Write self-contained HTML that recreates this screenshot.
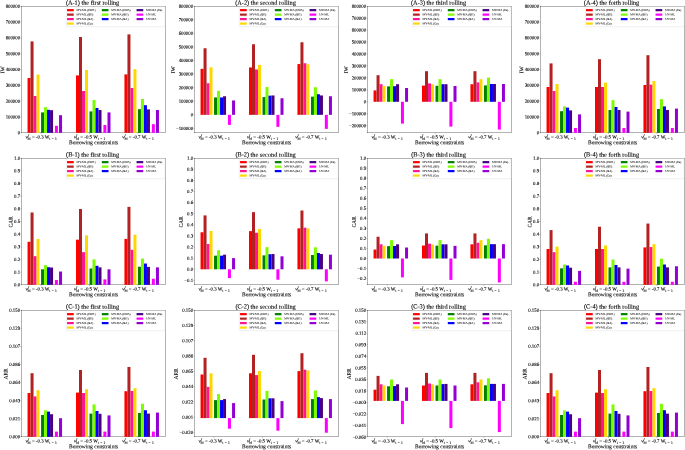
<!DOCTYPE html>
<html lang="en">
<head>
<meta charset="utf-8">
<title>Rolling results under borrowing constraints</title>
<style>
html,body{margin:0;padding:0;background:#fff;}
body{width:685px;height:450px;overflow:hidden;}
svg{display:block;}
svg text{font-family:"Liberation Serif", "DejaVu Serif", serif;fill:#000;stroke:#000;stroke-width:0.1px;text-rendering:geometricPrecision;}
svg text.lg{stroke-width:0.06px;fill:#111;stroke:#111;}
</style>
</head>
<body>
<svg width="685" height="450" viewBox="0 0 685 450">
<rect x="0" y="0" width="685" height="450" fill="#ffffff"/>
<g>
<rect x="21.45" y="6.2" width="144.2" height="126.65" fill="none" stroke="#000" stroke-width="0.3"/>
<rect x="27.55" y="78" width="3" height="54.85" fill="#ff0000"/>
<rect x="30.55" y="41.4" width="3" height="91.45" fill="#b22222"/>
<rect x="33.55" y="96" width="3" height="36.85" fill="#ff1493"/>
<rect x="36.55" y="74.6" width="3" height="58.25" fill="#ffd700"/>
<rect x="41.05" y="112.4" width="3" height="20.45" fill="#008000"/>
<rect x="44.05" y="107.2" width="3" height="25.65" fill="#7cfc00"/>
<rect x="47.05" y="109.8" width="3" height="23.05" fill="#0000ff"/>
<rect x="50.05" y="110.2" width="3" height="22.65" fill="#4b0082"/>
<rect x="54.94" y="125.8" width="3" height="7.05" fill="#ff00ff"/>
<rect x="59.05" y="115.2" width="3" height="17.65" fill="#9400d3"/>
<rect x="76" y="75.4" width="3" height="57.45" fill="#ff0000"/>
<rect x="79" y="37" width="3" height="95.85" fill="#b22222"/>
<rect x="82" y="91" width="3" height="41.85" fill="#ff1493"/>
<rect x="85" y="70" width="3" height="62.85" fill="#ffd700"/>
<rect x="89.5" y="111.4" width="3" height="21.45" fill="#008000"/>
<rect x="92.5" y="100" width="3" height="32.85" fill="#7cfc00"/>
<rect x="95.5" y="108" width="3" height="24.85" fill="#0000ff"/>
<rect x="98.5" y="110" width="3" height="22.85" fill="#4b0082"/>
<rect x="103.39" y="125" width="3" height="7.85" fill="#ff00ff"/>
<rect x="107.5" y="112.4" width="3" height="20.45" fill="#9400d3"/>
<rect x="124.45" y="74.4" width="3" height="58.45" fill="#ff0000"/>
<rect x="127.45" y="34.4" width="3" height="98.45" fill="#b22222"/>
<rect x="130.45" y="88" width="3" height="44.85" fill="#ff1493"/>
<rect x="133.45" y="69.2" width="3" height="63.65" fill="#ffd700"/>
<rect x="137.95" y="109.2" width="3" height="23.65" fill="#008000"/>
<rect x="140.95" y="99" width="3" height="33.85" fill="#7cfc00"/>
<rect x="143.95" y="105.2" width="3" height="27.65" fill="#0000ff"/>
<rect x="146.95" y="109.4" width="3" height="23.45" fill="#4b0082"/>
<rect x="151.84" y="124.2" width="3" height="8.65" fill="#ff00ff"/>
<rect x="155.95" y="110" width="3" height="22.85" fill="#9400d3"/>
<line x1="20.15" y1="6.21" x2="21.45" y2="6.21" stroke="#000" stroke-width="0.2"/>
<text x="20.05" y="7.71" font-size="4.8" text-anchor="end" transform="rotate(0.05 20.05 7.71)">800000</text>
<line x1="20.15" y1="22.04" x2="21.45" y2="22.04" stroke="#000" stroke-width="0.2"/>
<text x="20.05" y="23.54" font-size="4.8" text-anchor="end" transform="rotate(0.05 20.05 23.54)">700000</text>
<line x1="20.15" y1="37.87" x2="21.45" y2="37.87" stroke="#000" stroke-width="0.2"/>
<text x="20.05" y="39.37" font-size="4.8" text-anchor="end" transform="rotate(0.05 20.05 39.37)">600000</text>
<line x1="20.15" y1="53.7" x2="21.45" y2="53.7" stroke="#000" stroke-width="0.2"/>
<text x="20.05" y="55.2" font-size="4.8" text-anchor="end" transform="rotate(0.05 20.05 55.2)">500000</text>
<line x1="20.15" y1="69.53" x2="21.45" y2="69.53" stroke="#000" stroke-width="0.2"/>
<text x="20.05" y="71.03" font-size="4.8" text-anchor="end" transform="rotate(0.05 20.05 71.03)">400000</text>
<line x1="20.15" y1="85.36" x2="21.45" y2="85.36" stroke="#000" stroke-width="0.2"/>
<text x="20.05" y="86.86" font-size="4.8" text-anchor="end" transform="rotate(0.05 20.05 86.86)">300000</text>
<line x1="20.15" y1="101.19" x2="21.45" y2="101.19" stroke="#000" stroke-width="0.2"/>
<text x="20.05" y="102.69" font-size="4.8" text-anchor="end" transform="rotate(0.05 20.05 102.69)">200000</text>
<line x1="20.15" y1="117.02" x2="21.45" y2="117.02" stroke="#000" stroke-width="0.2"/>
<text x="20.05" y="118.52" font-size="4.8" text-anchor="end" transform="rotate(0.05 20.05 118.52)">100000</text>
<line x1="20.15" y1="132.85" x2="21.45" y2="132.85" stroke="#000" stroke-width="0.2"/>
<text x="20.05" y="134.35" font-size="4.8" text-anchor="end" transform="rotate(0.05 20.05 134.35)">0</text>
<line x1="41.05" y1="132.85" x2="41.05" y2="134.15" stroke="#000" stroke-width="0.2"/>
<text x="41.25" y="138.55" font-size="4.9" text-anchor="middle" transform="rotate(0.05 41.25 138.55)"><tspan font-style="italic" font-size="5">v</tspan><tspan font-size="3.5" dy="-1.9" font-style="italic">f</tspan><tspan font-size="3.5" dy="3.1" dx="-1.1">M</tspan><tspan dy="-1.2"> = -0.3 W</tspan><tspan font-size="3.5" dy="1.1" letter-spacing="0.25">t − 1</tspan></text>
<line x1="89.5" y1="132.85" x2="89.5" y2="134.15" stroke="#000" stroke-width="0.2"/>
<text x="89.7" y="138.55" font-size="4.9" text-anchor="middle" transform="rotate(0.05 89.7 138.55)"><tspan font-style="italic" font-size="5">v</tspan><tspan font-size="3.5" dy="-1.9" font-style="italic">f</tspan><tspan font-size="3.5" dy="3.1" dx="-1.1">M</tspan><tspan dy="-1.2"> = -0.5 W</tspan><tspan font-size="3.5" dy="1.1" letter-spacing="0.25">t − 1</tspan></text>
<line x1="137.95" y1="132.85" x2="137.95" y2="134.15" stroke="#000" stroke-width="0.2"/>
<text x="138.15" y="138.55" font-size="4.9" text-anchor="middle" transform="rotate(0.05 138.15 138.55)"><tspan font-style="italic" font-size="5">v</tspan><tspan font-size="3.5" dy="-1.9" font-style="italic">f</tspan><tspan font-size="3.5" dy="3.1" dx="-1.1">M</tspan><tspan dy="-1.2"> = -0.7 W</tspan><tspan font-size="3.5" dy="1.1" letter-spacing="0.25">t − 1</tspan></text>
<text x="93.55" y="144.25" font-size="5.5" text-anchor="middle" transform="rotate(0.05 93.55 144.25)">Borrowing constraints</text>
<text x="4.15" y="69.93" font-size="5.5" text-anchor="middle" transform="rotate(-89.95 4.15 69.93)">IW</text>
<text x="92.55" y="4.65" font-size="6.3" text-anchor="middle" transform="rotate(0.05 92.55 4.65)">(A-1) the first rolling</text>
<rect x="66.35" y="6.7" width="98.7" height="20" rx="0.8" fill="#fff" fill-opacity="0.8" stroke="#d4d4d4" stroke-width="0.35"/>
<rect x="67.05" y="9.05" width="6.7" height="2.2" fill="#ff0000"/>
<text x="76.5" y="11.1" font-size="3" class="lg" transform="rotate(0.05 76.5 11.1)">MV-ML (FWA)</text>
<rect x="67.05" y="13.53" width="6.7" height="2.2" fill="#b22222"/>
<text x="76.5" y="15.58" font-size="3" class="lg" transform="rotate(0.05 76.5 15.58)">MV-ML (BH)</text>
<rect x="67.05" y="18.01" width="6.7" height="2.2" fill="#ff1493"/>
<text x="76.5" y="20.06" font-size="3" class="lg" transform="rotate(0.05 76.5 20.06)">MV-ML (BA)</text>
<rect x="67.05" y="22.49" width="6.7" height="2.2" fill="#ffd700"/>
<text x="76.5" y="24.54" font-size="3" class="lg" transform="rotate(0.05 76.5 24.54)">MV-ML (Eu)</text>
<rect x="101.8" y="9.05" width="6.7" height="2.2" fill="#008000"/>
<text x="111.25" y="11.1" font-size="3" class="lg" transform="rotate(0.05 111.25 11.1)">MV-MA (FWA)</text>
<rect x="101.8" y="13.53" width="6.7" height="2.2" fill="#7cfc00"/>
<text x="111.25" y="15.58" font-size="3" class="lg" transform="rotate(0.05 111.25 15.58)">MV-MA (BH)</text>
<rect x="101.8" y="18.01" width="6.7" height="2.2" fill="#0000ff"/>
<text x="111.25" y="20.06" font-size="3" class="lg" transform="rotate(0.05 111.25 20.06)">MV-MA (BA)</text>
<rect x="136.55" y="9.05" width="6.7" height="2.2" fill="#4b0082"/>
<text x="146" y="11.1" font-size="3" class="lg" transform="rotate(0.05 146 11.1)">MV-MA (Eu)</text>
<rect x="136.55" y="13.53" width="6.7" height="2.2" fill="#ff00ff"/>
<text x="146" y="15.58" font-size="3" class="lg" transform="rotate(0.05 146 15.58)">1/N-ML</text>
<rect x="136.55" y="18.01" width="6.7" height="2.2" fill="#9400d3"/>
<text x="146" y="20.06" font-size="3" class="lg" transform="rotate(0.05 146 20.06)">1/N-MA</text>
</g>
<g>
<rect x="194.45" y="6.2" width="144.2" height="126.65" fill="none" stroke="#000" stroke-width="0.3"/>
<rect x="200.55" y="68.85" width="3" height="46" fill="#ff0000"/>
<rect x="203.55" y="48.25" width="3" height="66.6" fill="#b22222"/>
<rect x="206.55" y="83.25" width="3" height="31.6" fill="#ff1493"/>
<rect x="209.55" y="67.25" width="3" height="47.6" fill="#ffd700"/>
<rect x="214.05" y="97.45" width="3" height="17.4" fill="#008000"/>
<rect x="217.05" y="90.85" width="3" height="24" fill="#7cfc00"/>
<rect x="220.05" y="97.45" width="3" height="17.4" fill="#0000ff"/>
<rect x="223.05" y="96.25" width="3" height="18.6" fill="#4b0082"/>
<rect x="227.94" y="114.85" width="3" height="10" fill="#ff00ff"/>
<rect x="232.05" y="100.45" width="3" height="14.4" fill="#9400d3"/>
<rect x="249" y="67.45" width="3" height="47.4" fill="#ff0000"/>
<rect x="252" y="44.25" width="3" height="70.6" fill="#b22222"/>
<rect x="255" y="69.45" width="3" height="45.4" fill="#ff1493"/>
<rect x="258" y="64.85" width="3" height="50" fill="#ffd700"/>
<rect x="262.5" y="97.05" width="3" height="17.8" fill="#008000"/>
<rect x="265.5" y="87.05" width="3" height="27.8" fill="#7cfc00"/>
<rect x="268.5" y="95.65" width="3" height="19.2" fill="#0000ff"/>
<rect x="271.5" y="95.45" width="3" height="19.4" fill="#4b0082"/>
<rect x="276.39" y="114.85" width="3" height="12" fill="#ff00ff"/>
<rect x="280.5" y="98.25" width="3" height="16.6" fill="#9400d3"/>
<rect x="297.45" y="64.05" width="3" height="50.8" fill="#ff0000"/>
<rect x="300.45" y="42.25" width="3" height="72.6" fill="#b22222"/>
<rect x="303.45" y="63.25" width="3" height="51.6" fill="#ff1493"/>
<rect x="306.45" y="64.25" width="3" height="50.6" fill="#ffd700"/>
<rect x="310.95" y="96.65" width="3" height="18.2" fill="#008000"/>
<rect x="313.95" y="87.25" width="3" height="27.6" fill="#7cfc00"/>
<rect x="316.95" y="94.25" width="3" height="20.6" fill="#0000ff"/>
<rect x="319.95" y="95.45" width="3" height="19.4" fill="#4b0082"/>
<rect x="324.84" y="114.85" width="3" height="14" fill="#ff00ff"/>
<rect x="328.95" y="96.25" width="3" height="18.6" fill="#9400d3"/>
<line x1="193.15" y1="6.21" x2="194.45" y2="6.21" stroke="#000" stroke-width="0.2"/>
<text x="193.05" y="7.71" font-size="4.8" text-anchor="end" transform="rotate(0.05 193.05 7.71)">800000</text>
<line x1="193.15" y1="19.79" x2="194.45" y2="19.79" stroke="#000" stroke-width="0.2"/>
<text x="193.05" y="21.29" font-size="4.8" text-anchor="end" transform="rotate(0.05 193.05 21.29)">700000</text>
<line x1="193.15" y1="33.37" x2="194.45" y2="33.37" stroke="#000" stroke-width="0.2"/>
<text x="193.05" y="34.87" font-size="4.8" text-anchor="end" transform="rotate(0.05 193.05 34.87)">600000</text>
<line x1="193.15" y1="46.95" x2="194.45" y2="46.95" stroke="#000" stroke-width="0.2"/>
<text x="193.05" y="48.45" font-size="4.8" text-anchor="end" transform="rotate(0.05 193.05 48.45)">500000</text>
<line x1="193.15" y1="60.53" x2="194.45" y2="60.53" stroke="#000" stroke-width="0.2"/>
<text x="193.05" y="62.03" font-size="4.8" text-anchor="end" transform="rotate(0.05 193.05 62.03)">400000</text>
<line x1="193.15" y1="74.11" x2="194.45" y2="74.11" stroke="#000" stroke-width="0.2"/>
<text x="193.05" y="75.61" font-size="4.8" text-anchor="end" transform="rotate(0.05 193.05 75.61)">300000</text>
<line x1="193.15" y1="87.69" x2="194.45" y2="87.69" stroke="#000" stroke-width="0.2"/>
<text x="193.05" y="89.19" font-size="4.8" text-anchor="end" transform="rotate(0.05 193.05 89.19)">200000</text>
<line x1="193.15" y1="101.27" x2="194.45" y2="101.27" stroke="#000" stroke-width="0.2"/>
<text x="193.05" y="102.77" font-size="4.8" text-anchor="end" transform="rotate(0.05 193.05 102.77)">100000</text>
<line x1="193.15" y1="114.85" x2="194.45" y2="114.85" stroke="#000" stroke-width="0.2"/>
<text x="193.05" y="116.35" font-size="4.8" text-anchor="end" transform="rotate(0.05 193.05 116.35)">0</text>
<line x1="193.15" y1="128.43" x2="194.45" y2="128.43" stroke="#000" stroke-width="0.2"/>
<text x="193.05" y="129.93" font-size="4.8" text-anchor="end" transform="rotate(0.05 193.05 129.93)">−100000</text>
<line x1="214.05" y1="132.85" x2="214.05" y2="134.15" stroke="#000" stroke-width="0.2"/>
<text x="214.25" y="138.55" font-size="4.9" text-anchor="middle" transform="rotate(0.05 214.25 138.55)"><tspan font-style="italic" font-size="5">v</tspan><tspan font-size="3.5" dy="-1.9" font-style="italic">f</tspan><tspan font-size="3.5" dy="3.1" dx="-1.1">M</tspan><tspan dy="-1.2"> = -0.3 W</tspan><tspan font-size="3.5" dy="1.1" letter-spacing="0.25">t − 1</tspan></text>
<line x1="262.5" y1="132.85" x2="262.5" y2="134.15" stroke="#000" stroke-width="0.2"/>
<text x="262.7" y="138.55" font-size="4.9" text-anchor="middle" transform="rotate(0.05 262.7 138.55)"><tspan font-style="italic" font-size="5">v</tspan><tspan font-size="3.5" dy="-1.9" font-style="italic">f</tspan><tspan font-size="3.5" dy="3.1" dx="-1.1">M</tspan><tspan dy="-1.2"> = -0.5 W</tspan><tspan font-size="3.5" dy="1.1" letter-spacing="0.25">t − 1</tspan></text>
<line x1="310.95" y1="132.85" x2="310.95" y2="134.15" stroke="#000" stroke-width="0.2"/>
<text x="311.15" y="138.55" font-size="4.9" text-anchor="middle" transform="rotate(0.05 311.15 138.55)"><tspan font-style="italic" font-size="5">v</tspan><tspan font-size="3.5" dy="-1.9" font-style="italic">f</tspan><tspan font-size="3.5" dy="3.1" dx="-1.1">M</tspan><tspan dy="-1.2"> = -0.7 W</tspan><tspan font-size="3.5" dy="1.1" letter-spacing="0.25">t − 1</tspan></text>
<text x="266.55" y="144.25" font-size="5.5" text-anchor="middle" transform="rotate(0.05 266.55 144.25)">Borrowing constraints</text>
<text x="174.65" y="69.93" font-size="5.5" text-anchor="middle" transform="rotate(-89.95 174.65 69.93)">IW</text>
<text x="265.55" y="4.65" font-size="6.3" text-anchor="middle" transform="rotate(0.05 265.55 4.65)">(A-2) the second rolling</text>
<rect x="239.35" y="6.7" width="98.7" height="20" rx="0.8" fill="#fff" fill-opacity="0.8" stroke="#d4d4d4" stroke-width="0.35"/>
<rect x="240.05" y="9.05" width="6.7" height="2.2" fill="#ff0000"/>
<text x="249.5" y="11.1" font-size="3" class="lg" transform="rotate(0.05 249.5 11.1)">MV-ML (FWA)</text>
<rect x="240.05" y="13.53" width="6.7" height="2.2" fill="#b22222"/>
<text x="249.5" y="15.58" font-size="3" class="lg" transform="rotate(0.05 249.5 15.58)">MV-ML (BH)</text>
<rect x="240.05" y="18.01" width="6.7" height="2.2" fill="#ff1493"/>
<text x="249.5" y="20.06" font-size="3" class="lg" transform="rotate(0.05 249.5 20.06)">MV-ML (BA)</text>
<rect x="240.05" y="22.49" width="6.7" height="2.2" fill="#ffd700"/>
<text x="249.5" y="24.54" font-size="3" class="lg" transform="rotate(0.05 249.5 24.54)">MV-ML (Eu)</text>
<rect x="274.8" y="9.05" width="6.7" height="2.2" fill="#008000"/>
<text x="284.25" y="11.1" font-size="3" class="lg" transform="rotate(0.05 284.25 11.1)">MV-MA (FWA)</text>
<rect x="274.8" y="13.53" width="6.7" height="2.2" fill="#7cfc00"/>
<text x="284.25" y="15.58" font-size="3" class="lg" transform="rotate(0.05 284.25 15.58)">MV-MA (BH)</text>
<rect x="274.8" y="18.01" width="6.7" height="2.2" fill="#0000ff"/>
<text x="284.25" y="20.06" font-size="3" class="lg" transform="rotate(0.05 284.25 20.06)">MV-MA (BA)</text>
<rect x="309.55" y="9.05" width="6.7" height="2.2" fill="#4b0082"/>
<text x="319" y="11.1" font-size="3" class="lg" transform="rotate(0.05 319 11.1)">MV-MA (Eu)</text>
<rect x="309.55" y="13.53" width="6.7" height="2.2" fill="#ff00ff"/>
<text x="319" y="15.58" font-size="3" class="lg" transform="rotate(0.05 319 15.58)">1/N-ML</text>
<rect x="309.55" y="18.01" width="6.7" height="2.2" fill="#9400d3"/>
<text x="319" y="20.06" font-size="3" class="lg" transform="rotate(0.05 319 20.06)">1/N-MA</text>
</g>
<g>
<rect x="367.45" y="6.2" width="144.2" height="126.65" fill="none" stroke="#000" stroke-width="0.3"/>
<rect x="373.55" y="90.4" width="3" height="11.4" fill="#ff0000"/>
<rect x="376.55" y="75.2" width="3" height="26.6" fill="#b22222"/>
<rect x="379.55" y="84.2" width="3" height="17.6" fill="#ff1493"/>
<rect x="382.55" y="86" width="3" height="15.8" fill="#ffd700"/>
<rect x="387.05" y="86.4" width="3" height="15.4" fill="#008000"/>
<rect x="390.05" y="79.2" width="3" height="22.6" fill="#7cfc00"/>
<rect x="393.05" y="86.2" width="3" height="15.6" fill="#0000ff"/>
<rect x="396.05" y="84.2" width="3" height="17.6" fill="#4b0082"/>
<rect x="400.94" y="101.8" width="3" height="21.8" fill="#ff00ff"/>
<rect x="405.05" y="88" width="3" height="13.8" fill="#9400d3"/>
<rect x="422" y="85.6" width="3" height="16.2" fill="#ff0000"/>
<rect x="425" y="71.2" width="3" height="30.6" fill="#b22222"/>
<rect x="428" y="83.4" width="3" height="18.4" fill="#ff1493"/>
<rect x="431" y="84.4" width="3" height="17.4" fill="#ffd700"/>
<rect x="435.5" y="85.8" width="3" height="16" fill="#008000"/>
<rect x="438.5" y="79.2" width="3" height="22.6" fill="#7cfc00"/>
<rect x="441.5" y="84.2" width="3" height="17.6" fill="#0000ff"/>
<rect x="444.5" y="84.2" width="3" height="17.6" fill="#4b0082"/>
<rect x="449.39" y="101.8" width="3" height="24.8" fill="#ff00ff"/>
<rect x="453.5" y="86" width="3" height="15.8" fill="#9400d3"/>
<rect x="470.45" y="84.2" width="3" height="17.6" fill="#ff0000"/>
<rect x="473.45" y="71.2" width="3" height="30.6" fill="#b22222"/>
<rect x="476.45" y="82.4" width="3" height="19.4" fill="#ff1493"/>
<rect x="479.45" y="79.2" width="3" height="22.6" fill="#ffd700"/>
<rect x="483.95" y="85.4" width="3" height="16.4" fill="#008000"/>
<rect x="486.95" y="77.6" width="3" height="24.2" fill="#7cfc00"/>
<rect x="489.95" y="84" width="3" height="17.8" fill="#0000ff"/>
<rect x="492.95" y="84" width="3" height="17.8" fill="#4b0082"/>
<rect x="497.84" y="101.8" width="3" height="27.8" fill="#ff00ff"/>
<rect x="501.95" y="84" width="3" height="17.8" fill="#9400d3"/>
<line x1="366.15" y1="6.2" x2="367.45" y2="6.2" stroke="#000" stroke-width="0.2"/>
<text x="366.05" y="7.7" font-size="4.8" text-anchor="end" transform="rotate(0.05 366.05 7.7)">800000</text>
<line x1="366.15" y1="18.15" x2="367.45" y2="18.15" stroke="#000" stroke-width="0.2"/>
<text x="366.05" y="19.65" font-size="4.8" text-anchor="end" transform="rotate(0.05 366.05 19.65)">700000</text>
<line x1="366.15" y1="30.1" x2="367.45" y2="30.1" stroke="#000" stroke-width="0.2"/>
<text x="366.05" y="31.6" font-size="4.8" text-anchor="end" transform="rotate(0.05 366.05 31.6)">600000</text>
<line x1="366.15" y1="42.05" x2="367.45" y2="42.05" stroke="#000" stroke-width="0.2"/>
<text x="366.05" y="43.55" font-size="4.8" text-anchor="end" transform="rotate(0.05 366.05 43.55)">500000</text>
<line x1="366.15" y1="54" x2="367.45" y2="54" stroke="#000" stroke-width="0.2"/>
<text x="366.05" y="55.5" font-size="4.8" text-anchor="end" transform="rotate(0.05 366.05 55.5)">400000</text>
<line x1="366.15" y1="65.95" x2="367.45" y2="65.95" stroke="#000" stroke-width="0.2"/>
<text x="366.05" y="67.45" font-size="4.8" text-anchor="end" transform="rotate(0.05 366.05 67.45)">300000</text>
<line x1="366.15" y1="77.9" x2="367.45" y2="77.9" stroke="#000" stroke-width="0.2"/>
<text x="366.05" y="79.4" font-size="4.8" text-anchor="end" transform="rotate(0.05 366.05 79.4)">200000</text>
<line x1="366.15" y1="89.85" x2="367.45" y2="89.85" stroke="#000" stroke-width="0.2"/>
<text x="366.05" y="91.35" font-size="4.8" text-anchor="end" transform="rotate(0.05 366.05 91.35)">100000</text>
<line x1="366.15" y1="101.8" x2="367.45" y2="101.8" stroke="#000" stroke-width="0.2"/>
<text x="366.05" y="103.3" font-size="4.8" text-anchor="end" transform="rotate(0.05 366.05 103.3)">0</text>
<line x1="366.15" y1="113.75" x2="367.45" y2="113.75" stroke="#000" stroke-width="0.2"/>
<text x="366.05" y="115.25" font-size="4.8" text-anchor="end" transform="rotate(0.05 366.05 115.25)">−100000</text>
<line x1="366.15" y1="125.7" x2="367.45" y2="125.7" stroke="#000" stroke-width="0.2"/>
<text x="366.05" y="127.2" font-size="4.8" text-anchor="end" transform="rotate(0.05 366.05 127.2)">−200000</text>
<line x1="387.05" y1="132.85" x2="387.05" y2="134.15" stroke="#000" stroke-width="0.2"/>
<text x="387.25" y="138.55" font-size="4.9" text-anchor="middle" transform="rotate(0.05 387.25 138.55)"><tspan font-style="italic" font-size="5">v</tspan><tspan font-size="3.5" dy="-1.9" font-style="italic">f</tspan><tspan font-size="3.5" dy="3.1" dx="-1.1">M</tspan><tspan dy="-1.2"> = -0.3 W</tspan><tspan font-size="3.5" dy="1.1" letter-spacing="0.25">t − 1</tspan></text>
<line x1="435.5" y1="132.85" x2="435.5" y2="134.15" stroke="#000" stroke-width="0.2"/>
<text x="435.7" y="138.55" font-size="4.9" text-anchor="middle" transform="rotate(0.05 435.7 138.55)"><tspan font-style="italic" font-size="5">v</tspan><tspan font-size="3.5" dy="-1.9" font-style="italic">f</tspan><tspan font-size="3.5" dy="3.1" dx="-1.1">M</tspan><tspan dy="-1.2"> = -0.5 W</tspan><tspan font-size="3.5" dy="1.1" letter-spacing="0.25">t − 1</tspan></text>
<line x1="483.95" y1="132.85" x2="483.95" y2="134.15" stroke="#000" stroke-width="0.2"/>
<text x="484.15" y="138.55" font-size="4.9" text-anchor="middle" transform="rotate(0.05 484.15 138.55)"><tspan font-style="italic" font-size="5">v</tspan><tspan font-size="3.5" dy="-1.9" font-style="italic">f</tspan><tspan font-size="3.5" dy="3.1" dx="-1.1">M</tspan><tspan dy="-1.2"> = -0.7 W</tspan><tspan font-size="3.5" dy="1.1" letter-spacing="0.25">t − 1</tspan></text>
<text x="439.55" y="144.25" font-size="5.5" text-anchor="middle" transform="rotate(0.05 439.55 144.25)">Borrowing constraints</text>
<text x="347.65" y="69.93" font-size="5.5" text-anchor="middle" transform="rotate(-89.95 347.65 69.93)">IW</text>
<text x="438.55" y="4.65" font-size="6.3" text-anchor="middle" transform="rotate(0.05 438.55 4.65)">(A-3) the third rolling</text>
<rect x="412.35" y="6.7" width="98.7" height="20" rx="0.8" fill="#fff" fill-opacity="0.8" stroke="#d4d4d4" stroke-width="0.35"/>
<rect x="413.05" y="9.05" width="6.7" height="2.2" fill="#ff0000"/>
<text x="422.5" y="11.1" font-size="3" class="lg" transform="rotate(0.05 422.5 11.1)">MV-ML (FWA)</text>
<rect x="413.05" y="13.53" width="6.7" height="2.2" fill="#b22222"/>
<text x="422.5" y="15.58" font-size="3" class="lg" transform="rotate(0.05 422.5 15.58)">MV-ML (BH)</text>
<rect x="413.05" y="18.01" width="6.7" height="2.2" fill="#ff1493"/>
<text x="422.5" y="20.06" font-size="3" class="lg" transform="rotate(0.05 422.5 20.06)">MV-ML (BA)</text>
<rect x="413.05" y="22.49" width="6.7" height="2.2" fill="#ffd700"/>
<text x="422.5" y="24.54" font-size="3" class="lg" transform="rotate(0.05 422.5 24.54)">MV-ML (Eu)</text>
<rect x="447.8" y="9.05" width="6.7" height="2.2" fill="#008000"/>
<text x="457.25" y="11.1" font-size="3" class="lg" transform="rotate(0.05 457.25 11.1)">MV-MA (FWA)</text>
<rect x="447.8" y="13.53" width="6.7" height="2.2" fill="#7cfc00"/>
<text x="457.25" y="15.58" font-size="3" class="lg" transform="rotate(0.05 457.25 15.58)">MV-MA (BH)</text>
<rect x="447.8" y="18.01" width="6.7" height="2.2" fill="#0000ff"/>
<text x="457.25" y="20.06" font-size="3" class="lg" transform="rotate(0.05 457.25 20.06)">MV-MA (BA)</text>
<rect x="482.55" y="9.05" width="6.7" height="2.2" fill="#4b0082"/>
<text x="492" y="11.1" font-size="3" class="lg" transform="rotate(0.05 492 11.1)">MV-MA (Eu)</text>
<rect x="482.55" y="13.53" width="6.7" height="2.2" fill="#ff00ff"/>
<text x="492" y="15.58" font-size="3" class="lg" transform="rotate(0.05 492 15.58)">1/N-ML</text>
<rect x="482.55" y="18.01" width="6.7" height="2.2" fill="#9400d3"/>
<text x="492" y="20.06" font-size="3" class="lg" transform="rotate(0.05 492 20.06)">1/N-MA</text>
</g>
<g>
<rect x="540.45" y="6.2" width="144.2" height="126.65" fill="none" stroke="#000" stroke-width="0.3"/>
<rect x="546.55" y="87" width="3" height="45.85" fill="#ff0000"/>
<rect x="549.55" y="63.4" width="3" height="69.45" fill="#b22222"/>
<rect x="552.55" y="91" width="3" height="41.85" fill="#ff1493"/>
<rect x="555.55" y="84" width="3" height="48.85" fill="#ffd700"/>
<rect x="560.05" y="111.2" width="3" height="21.65" fill="#008000"/>
<rect x="563.05" y="106.4" width="3" height="26.45" fill="#7cfc00"/>
<rect x="566.05" y="107.6" width="3" height="25.25" fill="#0000ff"/>
<rect x="569.05" y="110.4" width="3" height="22.45" fill="#4b0082"/>
<rect x="573.94" y="128" width="3" height="4.85" fill="#ff00ff"/>
<rect x="578.05" y="114.4" width="3" height="18.45" fill="#9400d3"/>
<rect x="595" y="87" width="3" height="45.85" fill="#ff0000"/>
<rect x="598" y="59.2" width="3" height="73.65" fill="#b22222"/>
<rect x="601" y="87" width="3" height="45.85" fill="#ff1493"/>
<rect x="604" y="82.6" width="3" height="50.25" fill="#ffd700"/>
<rect x="608.5" y="110" width="3" height="22.85" fill="#008000"/>
<rect x="611.5" y="100.2" width="3" height="32.65" fill="#7cfc00"/>
<rect x="614.5" y="107" width="3" height="25.85" fill="#0000ff"/>
<rect x="617.5" y="110" width="3" height="22.85" fill="#4b0082"/>
<rect x="622.39" y="128" width="3" height="4.85" fill="#ff00ff"/>
<rect x="626.5" y="111.6" width="3" height="21.25" fill="#9400d3"/>
<rect x="643.45" y="85" width="3" height="47.85" fill="#ff0000"/>
<rect x="646.45" y="55.2" width="3" height="77.65" fill="#b22222"/>
<rect x="649.45" y="84.6" width="3" height="48.25" fill="#ff1493"/>
<rect x="652.45" y="81" width="3" height="51.85" fill="#ffd700"/>
<rect x="656.95" y="109" width="3" height="23.85" fill="#008000"/>
<rect x="659.95" y="99.2" width="3" height="33.65" fill="#7cfc00"/>
<rect x="662.95" y="106.4" width="3" height="26.45" fill="#0000ff"/>
<rect x="665.95" y="110" width="3" height="22.85" fill="#4b0082"/>
<rect x="670.84" y="128" width="3" height="4.85" fill="#ff00ff"/>
<rect x="674.95" y="108.6" width="3" height="24.25" fill="#9400d3"/>
<line x1="539.15" y1="6.21" x2="540.45" y2="6.21" stroke="#000" stroke-width="0.2"/>
<text x="539.05" y="7.71" font-size="4.8" text-anchor="end" transform="rotate(0.05 539.05 7.71)">800000</text>
<line x1="539.15" y1="22.04" x2="540.45" y2="22.04" stroke="#000" stroke-width="0.2"/>
<text x="539.05" y="23.54" font-size="4.8" text-anchor="end" transform="rotate(0.05 539.05 23.54)">700000</text>
<line x1="539.15" y1="37.87" x2="540.45" y2="37.87" stroke="#000" stroke-width="0.2"/>
<text x="539.05" y="39.37" font-size="4.8" text-anchor="end" transform="rotate(0.05 539.05 39.37)">600000</text>
<line x1="539.15" y1="53.7" x2="540.45" y2="53.7" stroke="#000" stroke-width="0.2"/>
<text x="539.05" y="55.2" font-size="4.8" text-anchor="end" transform="rotate(0.05 539.05 55.2)">500000</text>
<line x1="539.15" y1="69.53" x2="540.45" y2="69.53" stroke="#000" stroke-width="0.2"/>
<text x="539.05" y="71.03" font-size="4.8" text-anchor="end" transform="rotate(0.05 539.05 71.03)">400000</text>
<line x1="539.15" y1="85.36" x2="540.45" y2="85.36" stroke="#000" stroke-width="0.2"/>
<text x="539.05" y="86.86" font-size="4.8" text-anchor="end" transform="rotate(0.05 539.05 86.86)">300000</text>
<line x1="539.15" y1="101.19" x2="540.45" y2="101.19" stroke="#000" stroke-width="0.2"/>
<text x="539.05" y="102.69" font-size="4.8" text-anchor="end" transform="rotate(0.05 539.05 102.69)">200000</text>
<line x1="539.15" y1="117.02" x2="540.45" y2="117.02" stroke="#000" stroke-width="0.2"/>
<text x="539.05" y="118.52" font-size="4.8" text-anchor="end" transform="rotate(0.05 539.05 118.52)">100000</text>
<line x1="539.15" y1="132.85" x2="540.45" y2="132.85" stroke="#000" stroke-width="0.2"/>
<text x="539.05" y="134.35" font-size="4.8" text-anchor="end" transform="rotate(0.05 539.05 134.35)">0</text>
<line x1="560.05" y1="132.85" x2="560.05" y2="134.15" stroke="#000" stroke-width="0.2"/>
<text x="560.25" y="138.55" font-size="4.9" text-anchor="middle" transform="rotate(0.05 560.25 138.55)"><tspan font-style="italic" font-size="5">v</tspan><tspan font-size="3.5" dy="-1.9" font-style="italic">f</tspan><tspan font-size="3.5" dy="3.1" dx="-1.1">M</tspan><tspan dy="-1.2"> = -0.3 W</tspan><tspan font-size="3.5" dy="1.1" letter-spacing="0.25">t − 1</tspan></text>
<line x1="608.5" y1="132.85" x2="608.5" y2="134.15" stroke="#000" stroke-width="0.2"/>
<text x="608.7" y="138.55" font-size="4.9" text-anchor="middle" transform="rotate(0.05 608.7 138.55)"><tspan font-style="italic" font-size="5">v</tspan><tspan font-size="3.5" dy="-1.9" font-style="italic">f</tspan><tspan font-size="3.5" dy="3.1" dx="-1.1">M</tspan><tspan dy="-1.2"> = -0.5 W</tspan><tspan font-size="3.5" dy="1.1" letter-spacing="0.25">t − 1</tspan></text>
<line x1="656.95" y1="132.85" x2="656.95" y2="134.15" stroke="#000" stroke-width="0.2"/>
<text x="657.15" y="138.55" font-size="4.9" text-anchor="middle" transform="rotate(0.05 657.15 138.55)"><tspan font-style="italic" font-size="5">v</tspan><tspan font-size="3.5" dy="-1.9" font-style="italic">f</tspan><tspan font-size="3.5" dy="3.1" dx="-1.1">M</tspan><tspan dy="-1.2"> = -0.7 W</tspan><tspan font-size="3.5" dy="1.1" letter-spacing="0.25">t − 1</tspan></text>
<text x="612.55" y="144.25" font-size="5.5" text-anchor="middle" transform="rotate(0.05 612.55 144.25)">Borrowing constraints</text>
<text x="523.15" y="69.93" font-size="5.5" text-anchor="middle" transform="rotate(-89.95 523.15 69.93)">IW</text>
<text x="611.55" y="4.65" font-size="6.3" text-anchor="middle" transform="rotate(0.05 611.55 4.65)">(A-4) the forth rolling</text>
<rect x="585.35" y="6.7" width="98.7" height="20" rx="0.8" fill="#fff" fill-opacity="0.8" stroke="#d4d4d4" stroke-width="0.35"/>
<rect x="586.05" y="9.05" width="6.7" height="2.2" fill="#ff0000"/>
<text x="595.5" y="11.1" font-size="3" class="lg" transform="rotate(0.05 595.5 11.1)">MV-ML (FWA)</text>
<rect x="586.05" y="13.53" width="6.7" height="2.2" fill="#b22222"/>
<text x="595.5" y="15.58" font-size="3" class="lg" transform="rotate(0.05 595.5 15.58)">MV-ML (BH)</text>
<rect x="586.05" y="18.01" width="6.7" height="2.2" fill="#ff1493"/>
<text x="595.5" y="20.06" font-size="3" class="lg" transform="rotate(0.05 595.5 20.06)">MV-ML (BA)</text>
<rect x="586.05" y="22.49" width="6.7" height="2.2" fill="#ffd700"/>
<text x="595.5" y="24.54" font-size="3" class="lg" transform="rotate(0.05 595.5 24.54)">MV-ML (Eu)</text>
<rect x="620.8" y="9.05" width="6.7" height="2.2" fill="#008000"/>
<text x="630.25" y="11.1" font-size="3" class="lg" transform="rotate(0.05 630.25 11.1)">MV-MA (FWA)</text>
<rect x="620.8" y="13.53" width="6.7" height="2.2" fill="#7cfc00"/>
<text x="630.25" y="15.58" font-size="3" class="lg" transform="rotate(0.05 630.25 15.58)">MV-MA (BH)</text>
<rect x="620.8" y="18.01" width="6.7" height="2.2" fill="#0000ff"/>
<text x="630.25" y="20.06" font-size="3" class="lg" transform="rotate(0.05 630.25 20.06)">MV-MA (BA)</text>
<rect x="655.55" y="9.05" width="6.7" height="2.2" fill="#4b0082"/>
<text x="665" y="11.1" font-size="3" class="lg" transform="rotate(0.05 665 11.1)">MV-MA (Eu)</text>
<rect x="655.55" y="13.53" width="6.7" height="2.2" fill="#ff00ff"/>
<text x="665" y="15.58" font-size="3" class="lg" transform="rotate(0.05 665 15.58)">1/N-ML</text>
<rect x="655.55" y="18.01" width="6.7" height="2.2" fill="#9400d3"/>
<text x="665" y="20.06" font-size="3" class="lg" transform="rotate(0.05 665 20.06)">1/N-MA</text>
</g>
<g>
<rect x="21.45" y="158.2" width="144.2" height="126.65" fill="none" stroke="#000" stroke-width="0.3"/>
<rect x="27.55" y="241.78" width="3" height="43.07" fill="#ff0000"/>
<rect x="30.55" y="212.49" width="3" height="72.36" fill="#b22222"/>
<rect x="33.55" y="256.18" width="3" height="28.67" fill="#ff1493"/>
<rect x="36.55" y="239.06" width="3" height="45.79" fill="#ffd700"/>
<rect x="41.05" y="269.3" width="3" height="15.55" fill="#008000"/>
<rect x="44.05" y="265.14" width="3" height="19.71" fill="#7cfc00"/>
<rect x="47.05" y="267.22" width="3" height="17.63" fill="#0000ff"/>
<rect x="50.05" y="267.54" width="3" height="17.31" fill="#4b0082"/>
<rect x="54.94" y="280.02" width="3" height="4.83" fill="#ff00ff"/>
<rect x="59.05" y="271.54" width="3" height="13.31" fill="#9400d3"/>
<rect x="76" y="239.7" width="3" height="45.15" fill="#ff0000"/>
<rect x="79" y="208.97" width="3" height="75.88" fill="#b22222"/>
<rect x="82" y="252.18" width="3" height="32.67" fill="#ff1493"/>
<rect x="85" y="235.38" width="3" height="49.47" fill="#ffd700"/>
<rect x="89.5" y="268.5" width="3" height="16.35" fill="#008000"/>
<rect x="92.5" y="259.38" width="3" height="25.47" fill="#7cfc00"/>
<rect x="95.5" y="265.78" width="3" height="19.07" fill="#0000ff"/>
<rect x="98.5" y="267.38" width="3" height="17.47" fill="#4b0082"/>
<rect x="103.39" y="279.38" width="3" height="5.47" fill="#ff00ff"/>
<rect x="107.5" y="269.3" width="3" height="15.55" fill="#9400d3"/>
<rect x="124.45" y="238.9" width="3" height="45.95" fill="#ff0000"/>
<rect x="127.45" y="206.89" width="3" height="77.96" fill="#b22222"/>
<rect x="130.45" y="249.78" width="3" height="35.07" fill="#ff1493"/>
<rect x="133.45" y="234.74" width="3" height="50.11" fill="#ffd700"/>
<rect x="137.95" y="266.74" width="3" height="18.11" fill="#008000"/>
<rect x="140.95" y="258.58" width="3" height="26.27" fill="#7cfc00"/>
<rect x="143.95" y="263.54" width="3" height="21.31" fill="#0000ff"/>
<rect x="146.95" y="266.9" width="3" height="17.95" fill="#4b0082"/>
<rect x="151.84" y="278.74" width="3" height="6.11" fill="#ff00ff"/>
<rect x="155.95" y="267.38" width="3" height="17.47" fill="#9400d3"/>
<line x1="20.15" y1="158.2" x2="21.45" y2="158.2" stroke="#000" stroke-width="0.2"/>
<text x="20.05" y="159.7" font-size="4.8" text-anchor="end" transform="rotate(0.05 20.05 159.7)">1.0</text>
<line x1="20.15" y1="170.87" x2="21.45" y2="170.87" stroke="#000" stroke-width="0.2"/>
<text x="20.05" y="172.37" font-size="4.8" text-anchor="end" transform="rotate(0.05 20.05 172.37)">0.9</text>
<line x1="20.15" y1="183.53" x2="21.45" y2="183.53" stroke="#000" stroke-width="0.2"/>
<text x="20.05" y="185.03" font-size="4.8" text-anchor="end" transform="rotate(0.05 20.05 185.03)">0.8</text>
<line x1="20.15" y1="196.19" x2="21.45" y2="196.19" stroke="#000" stroke-width="0.2"/>
<text x="20.05" y="197.69" font-size="4.8" text-anchor="end" transform="rotate(0.05 20.05 197.69)">0.7</text>
<line x1="20.15" y1="208.86" x2="21.45" y2="208.86" stroke="#000" stroke-width="0.2"/>
<text x="20.05" y="210.36" font-size="4.8" text-anchor="end" transform="rotate(0.05 20.05 210.36)">0.6</text>
<line x1="20.15" y1="221.53" x2="21.45" y2="221.53" stroke="#000" stroke-width="0.2"/>
<text x="20.05" y="223.03" font-size="4.8" text-anchor="end" transform="rotate(0.05 20.05 223.03)">0.5</text>
<line x1="20.15" y1="234.19" x2="21.45" y2="234.19" stroke="#000" stroke-width="0.2"/>
<text x="20.05" y="235.69" font-size="4.8" text-anchor="end" transform="rotate(0.05 20.05 235.69)">0.4</text>
<line x1="20.15" y1="246.85" x2="21.45" y2="246.85" stroke="#000" stroke-width="0.2"/>
<text x="20.05" y="248.35" font-size="4.8" text-anchor="end" transform="rotate(0.05 20.05 248.35)">0.3</text>
<line x1="20.15" y1="259.52" x2="21.45" y2="259.52" stroke="#000" stroke-width="0.2"/>
<text x="20.05" y="261.02" font-size="4.8" text-anchor="end" transform="rotate(0.05 20.05 261.02)">0.2</text>
<line x1="20.15" y1="272.19" x2="21.45" y2="272.19" stroke="#000" stroke-width="0.2"/>
<text x="20.05" y="273.69" font-size="4.8" text-anchor="end" transform="rotate(0.05 20.05 273.69)">0.1</text>
<line x1="20.15" y1="284.85" x2="21.45" y2="284.85" stroke="#000" stroke-width="0.2"/>
<text x="20.05" y="286.35" font-size="4.8" text-anchor="end" transform="rotate(0.05 20.05 286.35)">0.0</text>
<line x1="41.05" y1="284.85" x2="41.05" y2="286.15" stroke="#000" stroke-width="0.2"/>
<text x="41.25" y="290.55" font-size="4.9" text-anchor="middle" transform="rotate(0.05 41.25 290.55)"><tspan font-style="italic" font-size="5">v</tspan><tspan font-size="3.5" dy="-1.9" font-style="italic">f</tspan><tspan font-size="3.5" dy="3.1" dx="-1.1">M</tspan><tspan dy="-1.2"> = -0.3 W</tspan><tspan font-size="3.5" dy="1.1" letter-spacing="0.25">t − 1</tspan></text>
<line x1="89.5" y1="284.85" x2="89.5" y2="286.15" stroke="#000" stroke-width="0.2"/>
<text x="89.7" y="290.55" font-size="4.9" text-anchor="middle" transform="rotate(0.05 89.7 290.55)"><tspan font-style="italic" font-size="5">v</tspan><tspan font-size="3.5" dy="-1.9" font-style="italic">f</tspan><tspan font-size="3.5" dy="3.1" dx="-1.1">M</tspan><tspan dy="-1.2"> = -0.5 W</tspan><tspan font-size="3.5" dy="1.1" letter-spacing="0.25">t − 1</tspan></text>
<line x1="137.95" y1="284.85" x2="137.95" y2="286.15" stroke="#000" stroke-width="0.2"/>
<text x="138.15" y="290.55" font-size="4.9" text-anchor="middle" transform="rotate(0.05 138.15 290.55)"><tspan font-style="italic" font-size="5">v</tspan><tspan font-size="3.5" dy="-1.9" font-style="italic">f</tspan><tspan font-size="3.5" dy="3.1" dx="-1.1">M</tspan><tspan dy="-1.2"> = -0.7 W</tspan><tspan font-size="3.5" dy="1.1" letter-spacing="0.25">t − 1</tspan></text>
<text x="93.55" y="296.25" font-size="5.5" text-anchor="middle" transform="rotate(0.05 93.55 296.25)">Borrowing constraints</text>
<text x="12.55" y="221.92" font-size="5.5" text-anchor="middle" transform="rotate(-89.95 12.55 221.92)">CAR</text>
<text x="92.55" y="156.65" font-size="6.3" text-anchor="middle" transform="rotate(0.05 92.55 156.65)">(B-1) the first rolling</text>
<rect x="66.35" y="158.7" width="98.7" height="20" rx="0.8" fill="#fff" fill-opacity="0.8" stroke="#d4d4d4" stroke-width="0.35"/>
<rect x="67.05" y="161.05" width="6.7" height="2.2" fill="#ff0000"/>
<text x="76.5" y="163.1" font-size="3" class="lg" transform="rotate(0.05 76.5 163.1)">MV-ML (FWA)</text>
<rect x="67.05" y="165.53" width="6.7" height="2.2" fill="#b22222"/>
<text x="76.5" y="167.58" font-size="3" class="lg" transform="rotate(0.05 76.5 167.58)">MV-ML (BH)</text>
<rect x="67.05" y="170.01" width="6.7" height="2.2" fill="#ff1493"/>
<text x="76.5" y="172.06" font-size="3" class="lg" transform="rotate(0.05 76.5 172.06)">MV-ML (BA)</text>
<rect x="67.05" y="174.49" width="6.7" height="2.2" fill="#ffd700"/>
<text x="76.5" y="176.54" font-size="3" class="lg" transform="rotate(0.05 76.5 176.54)">MV-ML (Eu)</text>
<rect x="101.8" y="161.05" width="6.7" height="2.2" fill="#008000"/>
<text x="111.25" y="163.1" font-size="3" class="lg" transform="rotate(0.05 111.25 163.1)">MV-MA (FWA)</text>
<rect x="101.8" y="165.53" width="6.7" height="2.2" fill="#7cfc00"/>
<text x="111.25" y="167.58" font-size="3" class="lg" transform="rotate(0.05 111.25 167.58)">MV-MA (BH)</text>
<rect x="101.8" y="170.01" width="6.7" height="2.2" fill="#0000ff"/>
<text x="111.25" y="172.06" font-size="3" class="lg" transform="rotate(0.05 111.25 172.06)">MV-MA (BA)</text>
<rect x="136.55" y="161.05" width="6.7" height="2.2" fill="#4b0082"/>
<text x="146" y="163.1" font-size="3" class="lg" transform="rotate(0.05 146 163.1)">MV-MA (Eu)</text>
<rect x="136.55" y="165.53" width="6.7" height="2.2" fill="#ff00ff"/>
<text x="146" y="167.58" font-size="3" class="lg" transform="rotate(0.05 146 167.58)">1/N-ML</text>
<rect x="136.55" y="170.01" width="6.7" height="2.2" fill="#9400d3"/>
<text x="146" y="172.06" font-size="3" class="lg" transform="rotate(0.05 146 172.06)">1/N-MA</text>
</g>
<g>
<rect x="194.45" y="158.2" width="144.2" height="126.65" fill="none" stroke="#000" stroke-width="0.3"/>
<rect x="200.55" y="232.27" width="3" height="37.03" fill="#ff0000"/>
<rect x="203.55" y="215.41" width="3" height="53.89" fill="#b22222"/>
<rect x="206.55" y="244.05" width="3" height="25.25" fill="#ff1493"/>
<rect x="209.55" y="230.96" width="3" height="38.34" fill="#ffd700"/>
<rect x="214.05" y="255.66" width="3" height="13.64" fill="#008000"/>
<rect x="217.05" y="250.27" width="3" height="19.03" fill="#7cfc00"/>
<rect x="220.05" y="255.66" width="3" height="13.64" fill="#0000ff"/>
<rect x="223.05" y="254.68" width="3" height="14.62" fill="#4b0082"/>
<rect x="227.94" y="269.3" width="3" height="8.78" fill="#ff00ff"/>
<rect x="232.05" y="258.12" width="3" height="11.18" fill="#9400d3"/>
<rect x="249" y="231.12" width="3" height="38.18" fill="#ff0000"/>
<rect x="252" y="212.14" width="3" height="57.16" fill="#b22222"/>
<rect x="255" y="232.76" width="3" height="36.54" fill="#ff1493"/>
<rect x="258" y="228.99" width="3" height="40.31" fill="#ffd700"/>
<rect x="262.5" y="255.34" width="3" height="13.96" fill="#008000"/>
<rect x="265.5" y="247.16" width="3" height="22.14" fill="#7cfc00"/>
<rect x="268.5" y="254.19" width="3" height="15.11" fill="#0000ff"/>
<rect x="271.5" y="254.03" width="3" height="15.27" fill="#4b0082"/>
<rect x="276.39" y="269.3" width="3" height="10.42" fill="#ff00ff"/>
<rect x="280.5" y="256.32" width="3" height="12.98" fill="#9400d3"/>
<rect x="297.45" y="228.34" width="3" height="40.96" fill="#ff0000"/>
<rect x="300.45" y="210.5" width="3" height="58.8" fill="#b22222"/>
<rect x="303.45" y="227.69" width="3" height="41.61" fill="#ff1493"/>
<rect x="306.45" y="228.5" width="3" height="40.8" fill="#ffd700"/>
<rect x="310.95" y="255.01" width="3" height="14.29" fill="#008000"/>
<rect x="313.95" y="247.32" width="3" height="21.98" fill="#7cfc00"/>
<rect x="316.95" y="253.05" width="3" height="16.25" fill="#0000ff"/>
<rect x="319.95" y="254.03" width="3" height="15.27" fill="#4b0082"/>
<rect x="324.84" y="269.3" width="3" height="12.05" fill="#ff00ff"/>
<rect x="328.95" y="254.68" width="3" height="14.62" fill="#9400d3"/>
<line x1="193.15" y1="158.2" x2="194.45" y2="158.2" stroke="#000" stroke-width="0.2"/>
<text x="193.05" y="159.7" font-size="4.8" text-anchor="end" transform="rotate(0.05 193.05 159.7)">1.0</text>
<line x1="193.15" y1="169.31" x2="194.45" y2="169.31" stroke="#000" stroke-width="0.2"/>
<text x="193.05" y="170.81" font-size="4.8" text-anchor="end" transform="rotate(0.05 193.05 170.81)">0.9</text>
<line x1="193.15" y1="180.42" x2="194.45" y2="180.42" stroke="#000" stroke-width="0.2"/>
<text x="193.05" y="181.92" font-size="4.8" text-anchor="end" transform="rotate(0.05 193.05 181.92)">0.8</text>
<line x1="193.15" y1="191.53" x2="194.45" y2="191.53" stroke="#000" stroke-width="0.2"/>
<text x="193.05" y="193.03" font-size="4.8" text-anchor="end" transform="rotate(0.05 193.05 193.03)">0.7</text>
<line x1="193.15" y1="202.64" x2="194.45" y2="202.64" stroke="#000" stroke-width="0.2"/>
<text x="193.05" y="204.14" font-size="4.8" text-anchor="end" transform="rotate(0.05 193.05 204.14)">0.6</text>
<line x1="193.15" y1="213.75" x2="194.45" y2="213.75" stroke="#000" stroke-width="0.2"/>
<text x="193.05" y="215.25" font-size="4.8" text-anchor="end" transform="rotate(0.05 193.05 215.25)">0.5</text>
<line x1="193.15" y1="224.86" x2="194.45" y2="224.86" stroke="#000" stroke-width="0.2"/>
<text x="193.05" y="226.36" font-size="4.8" text-anchor="end" transform="rotate(0.05 193.05 226.36)">0.4</text>
<line x1="193.15" y1="235.97" x2="194.45" y2="235.97" stroke="#000" stroke-width="0.2"/>
<text x="193.05" y="237.47" font-size="4.8" text-anchor="end" transform="rotate(0.05 193.05 237.47)">0.3</text>
<line x1="193.15" y1="247.08" x2="194.45" y2="247.08" stroke="#000" stroke-width="0.2"/>
<text x="193.05" y="248.58" font-size="4.8" text-anchor="end" transform="rotate(0.05 193.05 248.58)">0.2</text>
<line x1="193.15" y1="258.19" x2="194.45" y2="258.19" stroke="#000" stroke-width="0.2"/>
<text x="193.05" y="259.69" font-size="4.8" text-anchor="end" transform="rotate(0.05 193.05 259.69)">0.1</text>
<line x1="193.15" y1="269.3" x2="194.45" y2="269.3" stroke="#000" stroke-width="0.2"/>
<text x="193.05" y="270.8" font-size="4.8" text-anchor="end" transform="rotate(0.05 193.05 270.8)">0.0</text>
<line x1="193.15" y1="280.41" x2="194.45" y2="280.41" stroke="#000" stroke-width="0.2"/>
<text x="193.05" y="281.91" font-size="4.8" text-anchor="end" transform="rotate(0.05 193.05 281.91)">−0.1</text>
<line x1="214.05" y1="284.85" x2="214.05" y2="286.15" stroke="#000" stroke-width="0.2"/>
<text x="214.25" y="290.55" font-size="4.9" text-anchor="middle" transform="rotate(0.05 214.25 290.55)"><tspan font-style="italic" font-size="5">v</tspan><tspan font-size="3.5" dy="-1.9" font-style="italic">f</tspan><tspan font-size="3.5" dy="3.1" dx="-1.1">M</tspan><tspan dy="-1.2"> = -0.3 W</tspan><tspan font-size="3.5" dy="1.1" letter-spacing="0.25">t − 1</tspan></text>
<line x1="262.5" y1="284.85" x2="262.5" y2="286.15" stroke="#000" stroke-width="0.2"/>
<text x="262.7" y="290.55" font-size="4.9" text-anchor="middle" transform="rotate(0.05 262.7 290.55)"><tspan font-style="italic" font-size="5">v</tspan><tspan font-size="3.5" dy="-1.9" font-style="italic">f</tspan><tspan font-size="3.5" dy="3.1" dx="-1.1">M</tspan><tspan dy="-1.2"> = -0.5 W</tspan><tspan font-size="3.5" dy="1.1" letter-spacing="0.25">t − 1</tspan></text>
<line x1="310.95" y1="284.85" x2="310.95" y2="286.15" stroke="#000" stroke-width="0.2"/>
<text x="311.15" y="290.55" font-size="4.9" text-anchor="middle" transform="rotate(0.05 311.15 290.55)"><tspan font-style="italic" font-size="5">v</tspan><tspan font-size="3.5" dy="-1.9" font-style="italic">f</tspan><tspan font-size="3.5" dy="3.1" dx="-1.1">M</tspan><tspan dy="-1.2"> = -0.7 W</tspan><tspan font-size="3.5" dy="1.1" letter-spacing="0.25">t − 1</tspan></text>
<text x="266.55" y="296.25" font-size="5.5" text-anchor="middle" transform="rotate(0.05 266.55 296.25)">Borrowing constraints</text>
<text x="182.75" y="221.92" font-size="5.5" text-anchor="middle" transform="rotate(-89.95 182.75 221.92)">CAR</text>
<text x="265.55" y="156.65" font-size="6.3" text-anchor="middle" transform="rotate(0.05 265.55 156.65)">(B-2) the second rolling</text>
<rect x="239.35" y="158.7" width="98.7" height="20" rx="0.8" fill="#fff" fill-opacity="0.8" stroke="#d4d4d4" stroke-width="0.35"/>
<rect x="240.05" y="161.05" width="6.7" height="2.2" fill="#ff0000"/>
<text x="249.5" y="163.1" font-size="3" class="lg" transform="rotate(0.05 249.5 163.1)">MV-ML (FWA)</text>
<rect x="240.05" y="165.53" width="6.7" height="2.2" fill="#b22222"/>
<text x="249.5" y="167.58" font-size="3" class="lg" transform="rotate(0.05 249.5 167.58)">MV-ML (BH)</text>
<rect x="240.05" y="170.01" width="6.7" height="2.2" fill="#ff1493"/>
<text x="249.5" y="172.06" font-size="3" class="lg" transform="rotate(0.05 249.5 172.06)">MV-ML (BA)</text>
<rect x="240.05" y="174.49" width="6.7" height="2.2" fill="#ffd700"/>
<text x="249.5" y="176.54" font-size="3" class="lg" transform="rotate(0.05 249.5 176.54)">MV-ML (Eu)</text>
<rect x="274.8" y="161.05" width="6.7" height="2.2" fill="#008000"/>
<text x="284.25" y="163.1" font-size="3" class="lg" transform="rotate(0.05 284.25 163.1)">MV-MA (FWA)</text>
<rect x="274.8" y="165.53" width="6.7" height="2.2" fill="#7cfc00"/>
<text x="284.25" y="167.58" font-size="3" class="lg" transform="rotate(0.05 284.25 167.58)">MV-MA (BH)</text>
<rect x="274.8" y="170.01" width="6.7" height="2.2" fill="#0000ff"/>
<text x="284.25" y="172.06" font-size="3" class="lg" transform="rotate(0.05 284.25 172.06)">MV-MA (BA)</text>
<rect x="309.55" y="161.05" width="6.7" height="2.2" fill="#4b0082"/>
<text x="319" y="163.1" font-size="3" class="lg" transform="rotate(0.05 319 163.1)">MV-MA (Eu)</text>
<rect x="309.55" y="165.53" width="6.7" height="2.2" fill="#ff00ff"/>
<text x="319" y="167.58" font-size="3" class="lg" transform="rotate(0.05 319 167.58)">1/N-ML</text>
<rect x="309.55" y="170.01" width="6.7" height="2.2" fill="#9400d3"/>
<text x="319" y="172.06" font-size="3" class="lg" transform="rotate(0.05 319 172.06)">1/N-MA</text>
</g>
<g>
<rect x="367.45" y="158.2" width="144.2" height="126.65" fill="none" stroke="#000" stroke-width="0.3"/>
<rect x="373.55" y="249.53" width="3" height="8.97" fill="#ff0000"/>
<rect x="376.55" y="236.77" width="3" height="21.73" fill="#b22222"/>
<rect x="379.55" y="244.33" width="3" height="14.17" fill="#ff1493"/>
<rect x="382.55" y="245.84" width="3" height="12.66" fill="#ffd700"/>
<rect x="387.05" y="246.17" width="3" height="12.33" fill="#008000"/>
<rect x="390.05" y="240.13" width="3" height="18.37" fill="#7cfc00"/>
<rect x="393.05" y="246.01" width="3" height="12.49" fill="#0000ff"/>
<rect x="396.05" y="244.33" width="3" height="14.17" fill="#4b0082"/>
<rect x="400.94" y="258.5" width="3" height="18.9" fill="#ff00ff"/>
<rect x="405.05" y="247.52" width="3" height="10.98" fill="#9400d3"/>
<rect x="422" y="245.5" width="3" height="13" fill="#ff0000"/>
<rect x="425" y="233.42" width="3" height="25.08" fill="#b22222"/>
<rect x="428" y="243.66" width="3" height="14.84" fill="#ff1493"/>
<rect x="431" y="244.5" width="3" height="14" fill="#ffd700"/>
<rect x="435.5" y="245.67" width="3" height="12.83" fill="#008000"/>
<rect x="438.5" y="240.13" width="3" height="18.37" fill="#7cfc00"/>
<rect x="441.5" y="244.33" width="3" height="14.17" fill="#0000ff"/>
<rect x="444.5" y="244.33" width="3" height="14.17" fill="#4b0082"/>
<rect x="449.39" y="258.5" width="3" height="21.42" fill="#ff00ff"/>
<rect x="453.5" y="245.84" width="3" height="12.66" fill="#9400d3"/>
<rect x="470.45" y="244.33" width="3" height="14.17" fill="#ff0000"/>
<rect x="473.45" y="233.42" width="3" height="25.08" fill="#b22222"/>
<rect x="476.45" y="242.82" width="3" height="15.68" fill="#ff1493"/>
<rect x="479.45" y="240.13" width="3" height="18.37" fill="#ffd700"/>
<rect x="483.95" y="245.33" width="3" height="13.17" fill="#008000"/>
<rect x="486.95" y="238.79" width="3" height="19.71" fill="#7cfc00"/>
<rect x="489.95" y="244.16" width="3" height="14.34" fill="#0000ff"/>
<rect x="492.95" y="244.16" width="3" height="14.34" fill="#4b0082"/>
<rect x="497.84" y="258.5" width="3" height="23.93" fill="#ff00ff"/>
<rect x="501.95" y="244.16" width="3" height="14.34" fill="#9400d3"/>
<line x1="366.15" y1="158.2" x2="367.45" y2="158.2" stroke="#000" stroke-width="0.2"/>
<text x="366.05" y="159.7" font-size="4.8" text-anchor="end" transform="rotate(0.05 366.05 159.7)">1.0</text>
<line x1="366.15" y1="168.23" x2="367.45" y2="168.23" stroke="#000" stroke-width="0.2"/>
<text x="366.05" y="169.73" font-size="4.8" text-anchor="end" transform="rotate(0.05 366.05 169.73)">0.9</text>
<line x1="366.15" y1="178.26" x2="367.45" y2="178.26" stroke="#000" stroke-width="0.2"/>
<text x="366.05" y="179.76" font-size="4.8" text-anchor="end" transform="rotate(0.05 366.05 179.76)">0.8</text>
<line x1="366.15" y1="188.29" x2="367.45" y2="188.29" stroke="#000" stroke-width="0.2"/>
<text x="366.05" y="189.79" font-size="4.8" text-anchor="end" transform="rotate(0.05 366.05 189.79)">0.7</text>
<line x1="366.15" y1="198.32" x2="367.45" y2="198.32" stroke="#000" stroke-width="0.2"/>
<text x="366.05" y="199.82" font-size="4.8" text-anchor="end" transform="rotate(0.05 366.05 199.82)">0.6</text>
<line x1="366.15" y1="208.35" x2="367.45" y2="208.35" stroke="#000" stroke-width="0.2"/>
<text x="366.05" y="209.85" font-size="4.8" text-anchor="end" transform="rotate(0.05 366.05 209.85)">0.5</text>
<line x1="366.15" y1="218.38" x2="367.45" y2="218.38" stroke="#000" stroke-width="0.2"/>
<text x="366.05" y="219.88" font-size="4.8" text-anchor="end" transform="rotate(0.05 366.05 219.88)">0.4</text>
<line x1="366.15" y1="228.41" x2="367.45" y2="228.41" stroke="#000" stroke-width="0.2"/>
<text x="366.05" y="229.91" font-size="4.8" text-anchor="end" transform="rotate(0.05 366.05 229.91)">0.3</text>
<line x1="366.15" y1="238.44" x2="367.45" y2="238.44" stroke="#000" stroke-width="0.2"/>
<text x="366.05" y="239.94" font-size="4.8" text-anchor="end" transform="rotate(0.05 366.05 239.94)">0.2</text>
<line x1="366.15" y1="248.47" x2="367.45" y2="248.47" stroke="#000" stroke-width="0.2"/>
<text x="366.05" y="249.97" font-size="4.8" text-anchor="end" transform="rotate(0.05 366.05 249.97)">0.1</text>
<line x1="366.15" y1="258.5" x2="367.45" y2="258.5" stroke="#000" stroke-width="0.2"/>
<text x="366.05" y="260" font-size="4.8" text-anchor="end" transform="rotate(0.05 366.05 260)">0.0</text>
<line x1="366.15" y1="268.53" x2="367.45" y2="268.53" stroke="#000" stroke-width="0.2"/>
<text x="366.05" y="270.03" font-size="4.8" text-anchor="end" transform="rotate(0.05 366.05 270.03)">−0.1</text>
<line x1="366.15" y1="278.56" x2="367.45" y2="278.56" stroke="#000" stroke-width="0.2"/>
<text x="366.05" y="280.06" font-size="4.8" text-anchor="end" transform="rotate(0.05 366.05 280.06)">−0.2</text>
<line x1="387.05" y1="284.85" x2="387.05" y2="286.15" stroke="#000" stroke-width="0.2"/>
<text x="387.25" y="290.55" font-size="4.9" text-anchor="middle" transform="rotate(0.05 387.25 290.55)"><tspan font-style="italic" font-size="5">v</tspan><tspan font-size="3.5" dy="-1.9" font-style="italic">f</tspan><tspan font-size="3.5" dy="3.1" dx="-1.1">M</tspan><tspan dy="-1.2"> = -0.3 W</tspan><tspan font-size="3.5" dy="1.1" letter-spacing="0.25">t − 1</tspan></text>
<line x1="435.5" y1="284.85" x2="435.5" y2="286.15" stroke="#000" stroke-width="0.2"/>
<text x="435.7" y="290.55" font-size="4.9" text-anchor="middle" transform="rotate(0.05 435.7 290.55)"><tspan font-style="italic" font-size="5">v</tspan><tspan font-size="3.5" dy="-1.9" font-style="italic">f</tspan><tspan font-size="3.5" dy="3.1" dx="-1.1">M</tspan><tspan dy="-1.2"> = -0.5 W</tspan><tspan font-size="3.5" dy="1.1" letter-spacing="0.25">t − 1</tspan></text>
<line x1="483.95" y1="284.85" x2="483.95" y2="286.15" stroke="#000" stroke-width="0.2"/>
<text x="484.15" y="290.55" font-size="4.9" text-anchor="middle" transform="rotate(0.05 484.15 290.55)"><tspan font-style="italic" font-size="5">v</tspan><tspan font-size="3.5" dy="-1.9" font-style="italic">f</tspan><tspan font-size="3.5" dy="3.1" dx="-1.1">M</tspan><tspan dy="-1.2"> = -0.7 W</tspan><tspan font-size="3.5" dy="1.1" letter-spacing="0.25">t − 1</tspan></text>
<text x="439.55" y="296.25" font-size="5.5" text-anchor="middle" transform="rotate(0.05 439.55 296.25)">Borrowing constraints</text>
<text x="355.75" y="221.92" font-size="5.5" text-anchor="middle" transform="rotate(-89.95 355.75 221.92)">CAR</text>
<text x="438.55" y="156.65" font-size="6.3" text-anchor="middle" transform="rotate(0.05 438.55 156.65)">(B-3) the third rolling</text>
<rect x="412.35" y="158.7" width="98.7" height="20" rx="0.8" fill="#fff" fill-opacity="0.8" stroke="#d4d4d4" stroke-width="0.35"/>
<rect x="413.05" y="161.05" width="6.7" height="2.2" fill="#ff0000"/>
<text x="422.5" y="163.1" font-size="3" class="lg" transform="rotate(0.05 422.5 163.1)">MV-ML (FWA)</text>
<rect x="413.05" y="165.53" width="6.7" height="2.2" fill="#b22222"/>
<text x="422.5" y="167.58" font-size="3" class="lg" transform="rotate(0.05 422.5 167.58)">MV-ML (BH)</text>
<rect x="413.05" y="170.01" width="6.7" height="2.2" fill="#ff1493"/>
<text x="422.5" y="172.06" font-size="3" class="lg" transform="rotate(0.05 422.5 172.06)">MV-ML (BA)</text>
<rect x="413.05" y="174.49" width="6.7" height="2.2" fill="#ffd700"/>
<text x="422.5" y="176.54" font-size="3" class="lg" transform="rotate(0.05 422.5 176.54)">MV-ML (Eu)</text>
<rect x="447.8" y="161.05" width="6.7" height="2.2" fill="#008000"/>
<text x="457.25" y="163.1" font-size="3" class="lg" transform="rotate(0.05 457.25 163.1)">MV-MA (FWA)</text>
<rect x="447.8" y="165.53" width="6.7" height="2.2" fill="#7cfc00"/>
<text x="457.25" y="167.58" font-size="3" class="lg" transform="rotate(0.05 457.25 167.58)">MV-MA (BH)</text>
<rect x="447.8" y="170.01" width="6.7" height="2.2" fill="#0000ff"/>
<text x="457.25" y="172.06" font-size="3" class="lg" transform="rotate(0.05 457.25 172.06)">MV-MA (BA)</text>
<rect x="482.55" y="161.05" width="6.7" height="2.2" fill="#4b0082"/>
<text x="492" y="163.1" font-size="3" class="lg" transform="rotate(0.05 492 163.1)">MV-MA (Eu)</text>
<rect x="482.55" y="165.53" width="6.7" height="2.2" fill="#ff00ff"/>
<text x="492" y="167.58" font-size="3" class="lg" transform="rotate(0.05 492 167.58)">1/N-ML</text>
<rect x="482.55" y="170.01" width="6.7" height="2.2" fill="#9400d3"/>
<text x="492" y="172.06" font-size="3" class="lg" transform="rotate(0.05 492 172.06)">1/N-MA</text>
</g>
<g>
<rect x="540.45" y="158.2" width="144.2" height="126.65" fill="none" stroke="#000" stroke-width="0.3"/>
<rect x="546.55" y="248.98" width="3" height="35.87" fill="#ff0000"/>
<rect x="549.55" y="230.1" width="3" height="54.75" fill="#b22222"/>
<rect x="552.55" y="252.18" width="3" height="32.67" fill="#ff1493"/>
<rect x="555.55" y="246.58" width="3" height="38.27" fill="#ffd700"/>
<rect x="560.05" y="268.34" width="3" height="16.51" fill="#008000"/>
<rect x="563.05" y="264.5" width="3" height="20.35" fill="#7cfc00"/>
<rect x="566.05" y="265.46" width="3" height="19.39" fill="#0000ff"/>
<rect x="569.05" y="267.7" width="3" height="17.15" fill="#4b0082"/>
<rect x="573.94" y="281.78" width="3" height="3.07" fill="#ff00ff"/>
<rect x="578.05" y="270.9" width="3" height="13.95" fill="#9400d3"/>
<rect x="595" y="248.98" width="3" height="35.87" fill="#ff0000"/>
<rect x="598" y="226.74" width="3" height="58.11" fill="#b22222"/>
<rect x="601" y="248.98" width="3" height="35.87" fill="#ff1493"/>
<rect x="604" y="245.46" width="3" height="39.39" fill="#ffd700"/>
<rect x="608.5" y="267.38" width="3" height="17.47" fill="#008000"/>
<rect x="611.5" y="259.54" width="3" height="25.31" fill="#7cfc00"/>
<rect x="614.5" y="264.98" width="3" height="19.87" fill="#0000ff"/>
<rect x="617.5" y="267.38" width="3" height="17.47" fill="#4b0082"/>
<rect x="622.39" y="281.78" width="3" height="3.07" fill="#ff00ff"/>
<rect x="626.5" y="268.66" width="3" height="16.19" fill="#9400d3"/>
<rect x="643.45" y="247.38" width="3" height="37.47" fill="#ff0000"/>
<rect x="646.45" y="223.54" width="3" height="61.31" fill="#b22222"/>
<rect x="649.45" y="247.06" width="3" height="37.79" fill="#ff1493"/>
<rect x="652.45" y="244.18" width="3" height="40.67" fill="#ffd700"/>
<rect x="656.95" y="266.58" width="3" height="18.27" fill="#008000"/>
<rect x="659.95" y="258.74" width="3" height="26.11" fill="#7cfc00"/>
<rect x="662.95" y="264.5" width="3" height="20.35" fill="#0000ff"/>
<rect x="665.95" y="267.38" width="3" height="17.47" fill="#4b0082"/>
<rect x="670.84" y="281.78" width="3" height="3.07" fill="#ff00ff"/>
<rect x="674.95" y="266.26" width="3" height="18.59" fill="#9400d3"/>
<line x1="539.15" y1="158.2" x2="540.45" y2="158.2" stroke="#000" stroke-width="0.2"/>
<text x="539.05" y="159.7" font-size="4.8" text-anchor="end" transform="rotate(0.05 539.05 159.7)">1.0</text>
<line x1="539.15" y1="170.87" x2="540.45" y2="170.87" stroke="#000" stroke-width="0.2"/>
<text x="539.05" y="172.37" font-size="4.8" text-anchor="end" transform="rotate(0.05 539.05 172.37)">0.9</text>
<line x1="539.15" y1="183.53" x2="540.45" y2="183.53" stroke="#000" stroke-width="0.2"/>
<text x="539.05" y="185.03" font-size="4.8" text-anchor="end" transform="rotate(0.05 539.05 185.03)">0.8</text>
<line x1="539.15" y1="196.19" x2="540.45" y2="196.19" stroke="#000" stroke-width="0.2"/>
<text x="539.05" y="197.69" font-size="4.8" text-anchor="end" transform="rotate(0.05 539.05 197.69)">0.7</text>
<line x1="539.15" y1="208.86" x2="540.45" y2="208.86" stroke="#000" stroke-width="0.2"/>
<text x="539.05" y="210.36" font-size="4.8" text-anchor="end" transform="rotate(0.05 539.05 210.36)">0.6</text>
<line x1="539.15" y1="221.53" x2="540.45" y2="221.53" stroke="#000" stroke-width="0.2"/>
<text x="539.05" y="223.03" font-size="4.8" text-anchor="end" transform="rotate(0.05 539.05 223.03)">0.5</text>
<line x1="539.15" y1="234.19" x2="540.45" y2="234.19" stroke="#000" stroke-width="0.2"/>
<text x="539.05" y="235.69" font-size="4.8" text-anchor="end" transform="rotate(0.05 539.05 235.69)">0.4</text>
<line x1="539.15" y1="246.85" x2="540.45" y2="246.85" stroke="#000" stroke-width="0.2"/>
<text x="539.05" y="248.35" font-size="4.8" text-anchor="end" transform="rotate(0.05 539.05 248.35)">0.3</text>
<line x1="539.15" y1="259.52" x2="540.45" y2="259.52" stroke="#000" stroke-width="0.2"/>
<text x="539.05" y="261.02" font-size="4.8" text-anchor="end" transform="rotate(0.05 539.05 261.02)">0.2</text>
<line x1="539.15" y1="272.19" x2="540.45" y2="272.19" stroke="#000" stroke-width="0.2"/>
<text x="539.05" y="273.69" font-size="4.8" text-anchor="end" transform="rotate(0.05 539.05 273.69)">0.1</text>
<line x1="539.15" y1="284.85" x2="540.45" y2="284.85" stroke="#000" stroke-width="0.2"/>
<text x="539.05" y="286.35" font-size="4.8" text-anchor="end" transform="rotate(0.05 539.05 286.35)">0.0</text>
<line x1="560.05" y1="284.85" x2="560.05" y2="286.15" stroke="#000" stroke-width="0.2"/>
<text x="560.25" y="290.55" font-size="4.9" text-anchor="middle" transform="rotate(0.05 560.25 290.55)"><tspan font-style="italic" font-size="5">v</tspan><tspan font-size="3.5" dy="-1.9" font-style="italic">f</tspan><tspan font-size="3.5" dy="3.1" dx="-1.1">M</tspan><tspan dy="-1.2"> = -0.3 W</tspan><tspan font-size="3.5" dy="1.1" letter-spacing="0.25">t − 1</tspan></text>
<line x1="608.5" y1="284.85" x2="608.5" y2="286.15" stroke="#000" stroke-width="0.2"/>
<text x="608.7" y="290.55" font-size="4.9" text-anchor="middle" transform="rotate(0.05 608.7 290.55)"><tspan font-style="italic" font-size="5">v</tspan><tspan font-size="3.5" dy="-1.9" font-style="italic">f</tspan><tspan font-size="3.5" dy="3.1" dx="-1.1">M</tspan><tspan dy="-1.2"> = -0.5 W</tspan><tspan font-size="3.5" dy="1.1" letter-spacing="0.25">t − 1</tspan></text>
<line x1="656.95" y1="284.85" x2="656.95" y2="286.15" stroke="#000" stroke-width="0.2"/>
<text x="657.15" y="290.55" font-size="4.9" text-anchor="middle" transform="rotate(0.05 657.15 290.55)"><tspan font-style="italic" font-size="5">v</tspan><tspan font-size="3.5" dy="-1.9" font-style="italic">f</tspan><tspan font-size="3.5" dy="3.1" dx="-1.1">M</tspan><tspan dy="-1.2"> = -0.7 W</tspan><tspan font-size="3.5" dy="1.1" letter-spacing="0.25">t − 1</tspan></text>
<text x="612.55" y="296.25" font-size="5.5" text-anchor="middle" transform="rotate(0.05 612.55 296.25)">Borrowing constraints</text>
<text x="531.55" y="221.92" font-size="5.5" text-anchor="middle" transform="rotate(-89.95 531.55 221.92)">CAR</text>
<text x="611.55" y="156.65" font-size="6.3" text-anchor="middle" transform="rotate(0.05 611.55 156.65)">(B-4) the forth rolling</text>
<rect x="585.35" y="158.7" width="98.7" height="20" rx="0.8" fill="#fff" fill-opacity="0.8" stroke="#d4d4d4" stroke-width="0.35"/>
<rect x="586.05" y="161.05" width="6.7" height="2.2" fill="#ff0000"/>
<text x="595.5" y="163.1" font-size="3" class="lg" transform="rotate(0.05 595.5 163.1)">MV-ML (FWA)</text>
<rect x="586.05" y="165.53" width="6.7" height="2.2" fill="#b22222"/>
<text x="595.5" y="167.58" font-size="3" class="lg" transform="rotate(0.05 595.5 167.58)">MV-ML (BH)</text>
<rect x="586.05" y="170.01" width="6.7" height="2.2" fill="#ff1493"/>
<text x="595.5" y="172.06" font-size="3" class="lg" transform="rotate(0.05 595.5 172.06)">MV-ML (BA)</text>
<rect x="586.05" y="174.49" width="6.7" height="2.2" fill="#ffd700"/>
<text x="595.5" y="176.54" font-size="3" class="lg" transform="rotate(0.05 595.5 176.54)">MV-ML (Eu)</text>
<rect x="620.8" y="161.05" width="6.7" height="2.2" fill="#008000"/>
<text x="630.25" y="163.1" font-size="3" class="lg" transform="rotate(0.05 630.25 163.1)">MV-MA (FWA)</text>
<rect x="620.8" y="165.53" width="6.7" height="2.2" fill="#7cfc00"/>
<text x="630.25" y="167.58" font-size="3" class="lg" transform="rotate(0.05 630.25 167.58)">MV-MA (BH)</text>
<rect x="620.8" y="170.01" width="6.7" height="2.2" fill="#0000ff"/>
<text x="630.25" y="172.06" font-size="3" class="lg" transform="rotate(0.05 630.25 172.06)">MV-MA (BA)</text>
<rect x="655.55" y="161.05" width="6.7" height="2.2" fill="#4b0082"/>
<text x="665" y="163.1" font-size="3" class="lg" transform="rotate(0.05 665 163.1)">MV-MA (Eu)</text>
<rect x="655.55" y="165.53" width="6.7" height="2.2" fill="#ff00ff"/>
<text x="665" y="167.58" font-size="3" class="lg" transform="rotate(0.05 665 167.58)">1/N-ML</text>
<rect x="655.55" y="170.01" width="6.7" height="2.2" fill="#9400d3"/>
<text x="665" y="172.06" font-size="3" class="lg" transform="rotate(0.05 665 172.06)">1/N-MA</text>
</g>
<g>
<rect x="21.45" y="310.2" width="144.2" height="126.65" fill="none" stroke="#000" stroke-width="0.3"/>
<rect x="27.55" y="393" width="3" height="43.85" fill="#ff0000"/>
<rect x="30.55" y="373.2" width="3" height="63.65" fill="#b22222"/>
<rect x="33.55" y="396.4" width="3" height="40.45" fill="#ff1493"/>
<rect x="36.55" y="390.2" width="3" height="46.65" fill="#ffd700"/>
<rect x="41.05" y="415" width="3" height="21.85" fill="#008000"/>
<rect x="44.05" y="410.4" width="3" height="26.45" fill="#7cfc00"/>
<rect x="47.05" y="411.6" width="3" height="25.25" fill="#0000ff"/>
<rect x="50.05" y="414.2" width="3" height="22.65" fill="#4b0082"/>
<rect x="54.94" y="431.6" width="3" height="5.25" fill="#ff00ff"/>
<rect x="59.05" y="418.2" width="3" height="18.65" fill="#9400d3"/>
<rect x="76" y="392.6" width="3" height="44.25" fill="#ff0000"/>
<rect x="79" y="370" width="3" height="66.85" fill="#b22222"/>
<rect x="82" y="393" width="3" height="43.85" fill="#ff1493"/>
<rect x="85" y="389.2" width="3" height="47.65" fill="#ffd700"/>
<rect x="89.5" y="413.6" width="3" height="23.25" fill="#008000"/>
<rect x="92.5" y="404.4" width="3" height="32.45" fill="#7cfc00"/>
<rect x="95.5" y="411" width="3" height="25.85" fill="#0000ff"/>
<rect x="98.5" y="413.8" width="3" height="23.05" fill="#4b0082"/>
<rect x="103.39" y="431.6" width="3" height="5.25" fill="#ff00ff"/>
<rect x="107.5" y="415.4" width="3" height="21.45" fill="#9400d3"/>
<rect x="124.45" y="391.2" width="3" height="45.65" fill="#ff0000"/>
<rect x="127.45" y="367" width="3" height="69.85" fill="#b22222"/>
<rect x="130.45" y="391" width="3" height="45.85" fill="#ff1493"/>
<rect x="133.45" y="388.2" width="3" height="48.65" fill="#ffd700"/>
<rect x="137.95" y="413" width="3" height="23.85" fill="#008000"/>
<rect x="140.95" y="403.8" width="3" height="33.05" fill="#7cfc00"/>
<rect x="143.95" y="410.2" width="3" height="26.65" fill="#0000ff"/>
<rect x="146.95" y="413.6" width="3" height="23.25" fill="#4b0082"/>
<rect x="151.84" y="431.6" width="3" height="5.25" fill="#ff00ff"/>
<rect x="155.95" y="412.6" width="3" height="24.25" fill="#9400d3"/>
<line x1="20.15" y1="310.2" x2="21.45" y2="310.2" stroke="#000" stroke-width="0.2"/>
<text x="20.05" y="311.7" font-size="4.8" text-anchor="end" transform="rotate(0.05 20.05 311.7)">0.150</text>
<line x1="20.15" y1="328.29" x2="21.45" y2="328.29" stroke="#000" stroke-width="0.2"/>
<text x="20.05" y="329.79" font-size="4.8" text-anchor="end" transform="rotate(0.05 20.05 329.79)">0.129</text>
<line x1="20.15" y1="346.39" x2="21.45" y2="346.39" stroke="#000" stroke-width="0.2"/>
<text x="20.05" y="347.89" font-size="4.8" text-anchor="end" transform="rotate(0.05 20.05 347.89)">0.107</text>
<line x1="20.15" y1="364.48" x2="21.45" y2="364.48" stroke="#000" stroke-width="0.2"/>
<text x="20.05" y="365.98" font-size="4.8" text-anchor="end" transform="rotate(0.05 20.05 365.98)">0.086</text>
<line x1="20.15" y1="382.57" x2="21.45" y2="382.57" stroke="#000" stroke-width="0.2"/>
<text x="20.05" y="384.07" font-size="4.8" text-anchor="end" transform="rotate(0.05 20.05 384.07)">0.064</text>
<line x1="20.15" y1="400.66" x2="21.45" y2="400.66" stroke="#000" stroke-width="0.2"/>
<text x="20.05" y="402.16" font-size="4.8" text-anchor="end" transform="rotate(0.05 20.05 402.16)">0.043</text>
<line x1="20.15" y1="418.76" x2="21.45" y2="418.76" stroke="#000" stroke-width="0.2"/>
<text x="20.05" y="420.26" font-size="4.8" text-anchor="end" transform="rotate(0.05 20.05 420.26)">0.021</text>
<line x1="20.15" y1="436.85" x2="21.45" y2="436.85" stroke="#000" stroke-width="0.2"/>
<text x="20.05" y="438.35" font-size="4.8" text-anchor="end" transform="rotate(0.05 20.05 438.35)">0.000</text>
<line x1="41.05" y1="436.85" x2="41.05" y2="438.15" stroke="#000" stroke-width="0.2"/>
<text x="41.25" y="442.55" font-size="4.9" text-anchor="middle" transform="rotate(0.05 41.25 442.55)"><tspan font-style="italic" font-size="5">v</tspan><tspan font-size="3.5" dy="-1.9" font-style="italic">f</tspan><tspan font-size="3.5" dy="3.1" dx="-1.1">M</tspan><tspan dy="-1.2"> = -0.3 W</tspan><tspan font-size="3.5" dy="1.1" letter-spacing="0.25">t − 1</tspan></text>
<line x1="89.5" y1="436.85" x2="89.5" y2="438.15" stroke="#000" stroke-width="0.2"/>
<text x="89.7" y="442.55" font-size="4.9" text-anchor="middle" transform="rotate(0.05 89.7 442.55)"><tspan font-style="italic" font-size="5">v</tspan><tspan font-size="3.5" dy="-1.9" font-style="italic">f</tspan><tspan font-size="3.5" dy="3.1" dx="-1.1">M</tspan><tspan dy="-1.2"> = -0.5 W</tspan><tspan font-size="3.5" dy="1.1" letter-spacing="0.25">t − 1</tspan></text>
<line x1="137.95" y1="436.85" x2="137.95" y2="438.15" stroke="#000" stroke-width="0.2"/>
<text x="138.15" y="442.55" font-size="4.9" text-anchor="middle" transform="rotate(0.05 138.15 442.55)"><tspan font-style="italic" font-size="5">v</tspan><tspan font-size="3.5" dy="-1.9" font-style="italic">f</tspan><tspan font-size="3.5" dy="3.1" dx="-1.1">M</tspan><tspan dy="-1.2"> = -0.7 W</tspan><tspan font-size="3.5" dy="1.1" letter-spacing="0.25">t − 1</tspan></text>
<text x="93.55" y="448.25" font-size="5.5" text-anchor="middle" transform="rotate(0.05 93.55 448.25)">Borrowing constraints</text>
<text x="7.45" y="373.92" font-size="5.5" text-anchor="middle" transform="rotate(-89.95 7.45 373.92)">ARR</text>
<text x="92.55" y="308.65" font-size="6.3" text-anchor="middle" transform="rotate(0.05 92.55 308.65)">(C-1) the first rolling</text>
<rect x="66.35" y="310.7" width="98.7" height="20" rx="0.8" fill="#fff" fill-opacity="0.8" stroke="#d4d4d4" stroke-width="0.35"/>
<rect x="67.05" y="313.05" width="6.7" height="2.2" fill="#ff0000"/>
<text x="76.5" y="315.1" font-size="3" class="lg" transform="rotate(0.05 76.5 315.1)">MV-ML (FWA)</text>
<rect x="67.05" y="317.53" width="6.7" height="2.2" fill="#b22222"/>
<text x="76.5" y="319.58" font-size="3" class="lg" transform="rotate(0.05 76.5 319.58)">MV-ML (BH)</text>
<rect x="67.05" y="322.01" width="6.7" height="2.2" fill="#ff1493"/>
<text x="76.5" y="324.06" font-size="3" class="lg" transform="rotate(0.05 76.5 324.06)">MV-ML (BA)</text>
<rect x="67.05" y="326.49" width="6.7" height="2.2" fill="#ffd700"/>
<text x="76.5" y="328.54" font-size="3" class="lg" transform="rotate(0.05 76.5 328.54)">MV-ML (Eu)</text>
<rect x="101.8" y="313.05" width="6.7" height="2.2" fill="#008000"/>
<text x="111.25" y="315.1" font-size="3" class="lg" transform="rotate(0.05 111.25 315.1)">MV-MA (FWA)</text>
<rect x="101.8" y="317.53" width="6.7" height="2.2" fill="#7cfc00"/>
<text x="111.25" y="319.58" font-size="3" class="lg" transform="rotate(0.05 111.25 319.58)">MV-MA (BH)</text>
<rect x="101.8" y="322.01" width="6.7" height="2.2" fill="#0000ff"/>
<text x="111.25" y="324.06" font-size="3" class="lg" transform="rotate(0.05 111.25 324.06)">MV-MA (BA)</text>
<rect x="136.55" y="313.05" width="6.7" height="2.2" fill="#4b0082"/>
<text x="146" y="315.1" font-size="3" class="lg" transform="rotate(0.05 146 315.1)">MV-MA (Eu)</text>
<rect x="136.55" y="317.53" width="6.7" height="2.2" fill="#ff00ff"/>
<text x="146" y="319.58" font-size="3" class="lg" transform="rotate(0.05 146 319.58)">1/N-ML</text>
<rect x="136.55" y="322.01" width="6.7" height="2.2" fill="#9400d3"/>
<text x="146" y="324.06" font-size="3" class="lg" transform="rotate(0.05 146 324.06)">1/N-MA</text>
</g>
<g>
<rect x="194.45" y="310.2" width="144.2" height="126.65" fill="none" stroke="#000" stroke-width="0.3"/>
<rect x="200.55" y="374.5" width="3" height="43.6" fill="#ff0000"/>
<rect x="203.55" y="357.8" width="3" height="60.3" fill="#b22222"/>
<rect x="206.55" y="386.9" width="3" height="31.2" fill="#ff1493"/>
<rect x="209.55" y="373.3" width="3" height="44.8" fill="#ffd700"/>
<rect x="214.05" y="400.1" width="3" height="18" fill="#008000"/>
<rect x="217.05" y="394.1" width="3" height="24" fill="#7cfc00"/>
<rect x="220.05" y="400.1" width="3" height="18" fill="#0000ff"/>
<rect x="223.05" y="399.1" width="3" height="19" fill="#4b0082"/>
<rect x="227.94" y="418.1" width="3" height="10.6" fill="#ff00ff"/>
<rect x="232.05" y="403.1" width="3" height="15" fill="#9400d3"/>
<rect x="249" y="373.3" width="3" height="44.8" fill="#ff0000"/>
<rect x="252" y="354.8" width="3" height="63.3" fill="#b22222"/>
<rect x="255" y="375.1" width="3" height="43" fill="#ff1493"/>
<rect x="258" y="371.1" width="3" height="47" fill="#ffd700"/>
<rect x="262.5" y="399.5" width="3" height="18.6" fill="#008000"/>
<rect x="265.5" y="390.9" width="3" height="27.2" fill="#7cfc00"/>
<rect x="268.5" y="398.3" width="3" height="19.8" fill="#0000ff"/>
<rect x="271.5" y="398.3" width="3" height="19.8" fill="#4b0082"/>
<rect x="276.39" y="418.1" width="3" height="12.6" fill="#ff00ff"/>
<rect x="280.5" y="401.1" width="3" height="17" fill="#9400d3"/>
<rect x="297.45" y="371.1" width="3" height="47" fill="#ff0000"/>
<rect x="300.45" y="353.2" width="3" height="64.9" fill="#b22222"/>
<rect x="303.45" y="369.7" width="3" height="48.4" fill="#ff1493"/>
<rect x="306.45" y="370.5" width="3" height="47.6" fill="#ffd700"/>
<rect x="310.95" y="399.1" width="3" height="19" fill="#008000"/>
<rect x="313.95" y="390.5" width="3" height="27.6" fill="#7cfc00"/>
<rect x="316.95" y="397.1" width="3" height="21" fill="#0000ff"/>
<rect x="319.95" y="398.1" width="3" height="20" fill="#4b0082"/>
<rect x="324.84" y="418.1" width="3" height="14.6" fill="#ff00ff"/>
<rect x="328.95" y="399.1" width="3" height="19" fill="#9400d3"/>
<line x1="193.15" y1="310.2" x2="194.45" y2="310.2" stroke="#000" stroke-width="0.2"/>
<text x="193.05" y="311.7" font-size="4.8" text-anchor="end" transform="rotate(0.05 193.05 311.7)">0.150</text>
<line x1="193.15" y1="325.49" x2="194.45" y2="325.49" stroke="#000" stroke-width="0.2"/>
<text x="193.05" y="326.99" font-size="4.8" text-anchor="end" transform="rotate(0.05 193.05 326.99)">0.129</text>
<line x1="193.15" y1="340.77" x2="194.45" y2="340.77" stroke="#000" stroke-width="0.2"/>
<text x="193.05" y="342.27" font-size="4.8" text-anchor="end" transform="rotate(0.05 193.05 342.27)">0.107</text>
<line x1="193.15" y1="356.06" x2="194.45" y2="356.06" stroke="#000" stroke-width="0.2"/>
<text x="193.05" y="357.56" font-size="4.8" text-anchor="end" transform="rotate(0.05 193.05 357.56)">0.086</text>
<line x1="193.15" y1="371.34" x2="194.45" y2="371.34" stroke="#000" stroke-width="0.2"/>
<text x="193.05" y="372.84" font-size="4.8" text-anchor="end" transform="rotate(0.05 193.05 372.84)">0.065</text>
<line x1="193.15" y1="386.63" x2="194.45" y2="386.63" stroke="#000" stroke-width="0.2"/>
<text x="193.05" y="388.13" font-size="4.8" text-anchor="end" transform="rotate(0.05 193.05 388.13)">0.044</text>
<line x1="193.15" y1="401.91" x2="194.45" y2="401.91" stroke="#000" stroke-width="0.2"/>
<text x="193.05" y="403.41" font-size="4.8" text-anchor="end" transform="rotate(0.05 193.05 403.41)">0.022</text>
<line x1="193.15" y1="417.2" x2="194.45" y2="417.2" stroke="#000" stroke-width="0.2"/>
<text x="193.05" y="418.7" font-size="4.8" text-anchor="end" transform="rotate(0.05 193.05 418.7)">0.001</text>
<line x1="193.15" y1="432.49" x2="194.45" y2="432.49" stroke="#000" stroke-width="0.2"/>
<text x="193.05" y="433.99" font-size="4.8" text-anchor="end" transform="rotate(0.05 193.05 433.99)">−0.020</text>
<line x1="214.05" y1="436.85" x2="214.05" y2="438.15" stroke="#000" stroke-width="0.2"/>
<text x="214.25" y="442.55" font-size="4.9" text-anchor="middle" transform="rotate(0.05 214.25 442.55)"><tspan font-style="italic" font-size="5">v</tspan><tspan font-size="3.5" dy="-1.9" font-style="italic">f</tspan><tspan font-size="3.5" dy="3.1" dx="-1.1">M</tspan><tspan dy="-1.2"> = -0.3 W</tspan><tspan font-size="3.5" dy="1.1" letter-spacing="0.25">t − 1</tspan></text>
<line x1="262.5" y1="436.85" x2="262.5" y2="438.15" stroke="#000" stroke-width="0.2"/>
<text x="262.7" y="442.55" font-size="4.9" text-anchor="middle" transform="rotate(0.05 262.7 442.55)"><tspan font-style="italic" font-size="5">v</tspan><tspan font-size="3.5" dy="-1.9" font-style="italic">f</tspan><tspan font-size="3.5" dy="3.1" dx="-1.1">M</tspan><tspan dy="-1.2"> = -0.5 W</tspan><tspan font-size="3.5" dy="1.1" letter-spacing="0.25">t − 1</tspan></text>
<line x1="310.95" y1="436.85" x2="310.95" y2="438.15" stroke="#000" stroke-width="0.2"/>
<text x="311.15" y="442.55" font-size="4.9" text-anchor="middle" transform="rotate(0.05 311.15 442.55)"><tspan font-style="italic" font-size="5">v</tspan><tspan font-size="3.5" dy="-1.9" font-style="italic">f</tspan><tspan font-size="3.5" dy="3.1" dx="-1.1">M</tspan><tspan dy="-1.2"> = -0.7 W</tspan><tspan font-size="3.5" dy="1.1" letter-spacing="0.25">t − 1</tspan></text>
<text x="266.55" y="448.25" font-size="5.5" text-anchor="middle" transform="rotate(0.05 266.55 448.25)">Borrowing constraints</text>
<text x="177.85" y="373.92" font-size="5.5" text-anchor="middle" transform="rotate(-89.95 177.85 373.92)">ARR</text>
<text x="265.55" y="308.65" font-size="6.3" text-anchor="middle" transform="rotate(0.05 265.55 308.65)">(C-2) the second rolling</text>
<rect x="239.35" y="310.7" width="98.7" height="20" rx="0.8" fill="#fff" fill-opacity="0.8" stroke="#d4d4d4" stroke-width="0.35"/>
<rect x="240.05" y="313.05" width="6.7" height="2.2" fill="#ff0000"/>
<text x="249.5" y="315.1" font-size="3" class="lg" transform="rotate(0.05 249.5 315.1)">MV-ML (FWA)</text>
<rect x="240.05" y="317.53" width="6.7" height="2.2" fill="#b22222"/>
<text x="249.5" y="319.58" font-size="3" class="lg" transform="rotate(0.05 249.5 319.58)">MV-ML (BH)</text>
<rect x="240.05" y="322.01" width="6.7" height="2.2" fill="#ff1493"/>
<text x="249.5" y="324.06" font-size="3" class="lg" transform="rotate(0.05 249.5 324.06)">MV-ML (BA)</text>
<rect x="240.05" y="326.49" width="6.7" height="2.2" fill="#ffd700"/>
<text x="249.5" y="328.54" font-size="3" class="lg" transform="rotate(0.05 249.5 328.54)">MV-ML (Eu)</text>
<rect x="274.8" y="313.05" width="6.7" height="2.2" fill="#008000"/>
<text x="284.25" y="315.1" font-size="3" class="lg" transform="rotate(0.05 284.25 315.1)">MV-MA (FWA)</text>
<rect x="274.8" y="317.53" width="6.7" height="2.2" fill="#7cfc00"/>
<text x="284.25" y="319.58" font-size="3" class="lg" transform="rotate(0.05 284.25 319.58)">MV-MA (BH)</text>
<rect x="274.8" y="322.01" width="6.7" height="2.2" fill="#0000ff"/>
<text x="284.25" y="324.06" font-size="3" class="lg" transform="rotate(0.05 284.25 324.06)">MV-MA (BA)</text>
<rect x="309.55" y="313.05" width="6.7" height="2.2" fill="#4b0082"/>
<text x="319" y="315.1" font-size="3" class="lg" transform="rotate(0.05 319 315.1)">MV-MA (Eu)</text>
<rect x="309.55" y="317.53" width="6.7" height="2.2" fill="#ff00ff"/>
<text x="319" y="319.58" font-size="3" class="lg" transform="rotate(0.05 319 319.58)">1/N-ML</text>
<rect x="309.55" y="322.01" width="6.7" height="2.2" fill="#9400d3"/>
<text x="319" y="324.06" font-size="3" class="lg" transform="rotate(0.05 319 324.06)">1/N-MA</text>
</g>
<g>
<rect x="367.45" y="310.2" width="144.2" height="126.65" fill="none" stroke="#000" stroke-width="0.3"/>
<rect x="373.55" y="389.7" width="3" height="11.2" fill="#ff0000"/>
<rect x="376.55" y="375.9" width="3" height="25" fill="#b22222"/>
<rect x="379.55" y="384.3" width="3" height="16.6" fill="#ff1493"/>
<rect x="382.55" y="385.5" width="3" height="15.4" fill="#ffd700"/>
<rect x="387.05" y="386.3" width="3" height="14.6" fill="#008000"/>
<rect x="390.05" y="379.5" width="3" height="21.4" fill="#7cfc00"/>
<rect x="393.05" y="386.1" width="3" height="14.8" fill="#0000ff"/>
<rect x="396.05" y="384.3" width="3" height="16.6" fill="#4b0082"/>
<rect x="400.94" y="400.9" width="3" height="23.2" fill="#ff00ff"/>
<rect x="405.05" y="387.5" width="3" height="13.4" fill="#9400d3"/>
<rect x="422" y="385.5" width="3" height="15.4" fill="#ff0000"/>
<rect x="425" y="372.9" width="3" height="28" fill="#b22222"/>
<rect x="428" y="383.5" width="3" height="17.4" fill="#ff1493"/>
<rect x="431" y="384.3" width="3" height="16.6" fill="#ffd700"/>
<rect x="435.5" y="385.5" width="3" height="15.4" fill="#008000"/>
<rect x="438.5" y="379.5" width="3" height="21.4" fill="#7cfc00"/>
<rect x="441.5" y="384.1" width="3" height="16.8" fill="#0000ff"/>
<rect x="444.5" y="383.9" width="3" height="17" fill="#4b0082"/>
<rect x="449.39" y="400.9" width="3" height="27.2" fill="#ff00ff"/>
<rect x="453.5" y="385.5" width="3" height="15.4" fill="#9400d3"/>
<rect x="470.45" y="384.3" width="3" height="16.6" fill="#ff0000"/>
<rect x="473.45" y="372.9" width="3" height="28" fill="#b22222"/>
<rect x="476.45" y="382.3" width="3" height="18.6" fill="#ff1493"/>
<rect x="479.45" y="379.5" width="3" height="21.4" fill="#ffd700"/>
<rect x="483.95" y="385.3" width="3" height="15.6" fill="#008000"/>
<rect x="486.95" y="378.3" width="3" height="22.6" fill="#7cfc00"/>
<rect x="489.95" y="383.9" width="3" height="17" fill="#0000ff"/>
<rect x="492.95" y="383.9" width="3" height="17" fill="#4b0082"/>
<rect x="497.84" y="400.9" width="3" height="31.2" fill="#ff00ff"/>
<rect x="501.95" y="383.9" width="3" height="17" fill="#9400d3"/>
<line x1="366.15" y1="310.2" x2="367.45" y2="310.2" stroke="#000" stroke-width="0.2"/>
<text x="366.05" y="311.7" font-size="4.8" text-anchor="end" transform="rotate(0.05 366.05 311.7)">0.150</text>
<line x1="366.15" y1="321.74" x2="367.45" y2="321.74" stroke="#000" stroke-width="0.2"/>
<text x="366.05" y="323.24" font-size="4.8" text-anchor="end" transform="rotate(0.05 366.05 323.24)">0.131</text>
<line x1="366.15" y1="333.29" x2="367.45" y2="333.29" stroke="#000" stroke-width="0.2"/>
<text x="366.05" y="334.79" font-size="4.8" text-anchor="end" transform="rotate(0.05 366.05 334.79)">0.112</text>
<line x1="366.15" y1="344.83" x2="367.45" y2="344.83" stroke="#000" stroke-width="0.2"/>
<text x="366.05" y="346.33" font-size="4.8" text-anchor="end" transform="rotate(0.05 366.05 346.33)">0.093</text>
<line x1="366.15" y1="356.37" x2="367.45" y2="356.37" stroke="#000" stroke-width="0.2"/>
<text x="366.05" y="357.87" font-size="4.8" text-anchor="end" transform="rotate(0.05 366.05 357.87)">0.074</text>
<line x1="366.15" y1="367.92" x2="367.45" y2="367.92" stroke="#000" stroke-width="0.2"/>
<text x="366.05" y="369.42" font-size="4.8" text-anchor="end" transform="rotate(0.05 366.05 369.42)">0.055</text>
<line x1="366.15" y1="379.46" x2="367.45" y2="379.46" stroke="#000" stroke-width="0.2"/>
<text x="366.05" y="380.96" font-size="4.8" text-anchor="end" transform="rotate(0.05 366.05 380.96)">0.035</text>
<line x1="366.15" y1="391.01" x2="367.45" y2="391.01" stroke="#000" stroke-width="0.2"/>
<text x="366.05" y="392.51" font-size="4.8" text-anchor="end" transform="rotate(0.05 366.05 392.51)">0.016</text>
<line x1="366.15" y1="402.55" x2="367.45" y2="402.55" stroke="#000" stroke-width="0.2"/>
<text x="366.05" y="404.05" font-size="4.8" text-anchor="end" transform="rotate(0.05 366.05 404.05)">−0.003</text>
<line x1="366.15" y1="414.09" x2="367.45" y2="414.09" stroke="#000" stroke-width="0.2"/>
<text x="366.05" y="415.59" font-size="4.8" text-anchor="end" transform="rotate(0.05 366.05 415.59)">−0.022</text>
<line x1="366.15" y1="425.64" x2="367.45" y2="425.64" stroke="#000" stroke-width="0.2"/>
<text x="366.05" y="427.14" font-size="4.8" text-anchor="end" transform="rotate(0.05 366.05 427.14)">−0.041</text>
<line x1="366.15" y1="437.18" x2="367.45" y2="437.18" stroke="#000" stroke-width="0.2"/>
<text x="366.05" y="438.68" font-size="4.8" text-anchor="end" transform="rotate(0.05 366.05 438.68)">−0.060</text>
<line x1="387.05" y1="436.85" x2="387.05" y2="438.15" stroke="#000" stroke-width="0.2"/>
<text x="387.25" y="442.55" font-size="4.9" text-anchor="middle" transform="rotate(0.05 387.25 442.55)"><tspan font-style="italic" font-size="5">v</tspan><tspan font-size="3.5" dy="-1.9" font-style="italic">f</tspan><tspan font-size="3.5" dy="3.1" dx="-1.1">M</tspan><tspan dy="-1.2"> = -0.3 W</tspan><tspan font-size="3.5" dy="1.1" letter-spacing="0.25">t − 1</tspan></text>
<line x1="435.5" y1="436.85" x2="435.5" y2="438.15" stroke="#000" stroke-width="0.2"/>
<text x="435.7" y="442.55" font-size="4.9" text-anchor="middle" transform="rotate(0.05 435.7 442.55)"><tspan font-style="italic" font-size="5">v</tspan><tspan font-size="3.5" dy="-1.9" font-style="italic">f</tspan><tspan font-size="3.5" dy="3.1" dx="-1.1">M</tspan><tspan dy="-1.2"> = -0.5 W</tspan><tspan font-size="3.5" dy="1.1" letter-spacing="0.25">t − 1</tspan></text>
<line x1="483.95" y1="436.85" x2="483.95" y2="438.15" stroke="#000" stroke-width="0.2"/>
<text x="484.15" y="442.55" font-size="4.9" text-anchor="middle" transform="rotate(0.05 484.15 442.55)"><tspan font-style="italic" font-size="5">v</tspan><tspan font-size="3.5" dy="-1.9" font-style="italic">f</tspan><tspan font-size="3.5" dy="3.1" dx="-1.1">M</tspan><tspan dy="-1.2"> = -0.7 W</tspan><tspan font-size="3.5" dy="1.1" letter-spacing="0.25">t − 1</tspan></text>
<text x="439.55" y="448.25" font-size="5.5" text-anchor="middle" transform="rotate(0.05 439.55 448.25)">Borrowing constraints</text>
<text x="350.85" y="373.92" font-size="5.5" text-anchor="middle" transform="rotate(-89.95 350.85 373.92)">ARR</text>
<text x="438.55" y="308.65" font-size="6.3" text-anchor="middle" transform="rotate(0.05 438.55 308.65)">(C-3) the third rolling</text>
<rect x="412.35" y="310.7" width="98.7" height="20" rx="0.8" fill="#fff" fill-opacity="0.8" stroke="#d4d4d4" stroke-width="0.35"/>
<rect x="413.05" y="313.05" width="6.7" height="2.2" fill="#ff0000"/>
<text x="422.5" y="315.1" font-size="3" class="lg" transform="rotate(0.05 422.5 315.1)">MV-ML (FWA)</text>
<rect x="413.05" y="317.53" width="6.7" height="2.2" fill="#b22222"/>
<text x="422.5" y="319.58" font-size="3" class="lg" transform="rotate(0.05 422.5 319.58)">MV-ML (BH)</text>
<rect x="413.05" y="322.01" width="6.7" height="2.2" fill="#ff1493"/>
<text x="422.5" y="324.06" font-size="3" class="lg" transform="rotate(0.05 422.5 324.06)">MV-ML (BA)</text>
<rect x="413.05" y="326.49" width="6.7" height="2.2" fill="#ffd700"/>
<text x="422.5" y="328.54" font-size="3" class="lg" transform="rotate(0.05 422.5 328.54)">MV-ML (Eu)</text>
<rect x="447.8" y="313.05" width="6.7" height="2.2" fill="#008000"/>
<text x="457.25" y="315.1" font-size="3" class="lg" transform="rotate(0.05 457.25 315.1)">MV-MA (FWA)</text>
<rect x="447.8" y="317.53" width="6.7" height="2.2" fill="#7cfc00"/>
<text x="457.25" y="319.58" font-size="3" class="lg" transform="rotate(0.05 457.25 319.58)">MV-MA (BH)</text>
<rect x="447.8" y="322.01" width="6.7" height="2.2" fill="#0000ff"/>
<text x="457.25" y="324.06" font-size="3" class="lg" transform="rotate(0.05 457.25 324.06)">MV-MA (BA)</text>
<rect x="482.55" y="313.05" width="6.7" height="2.2" fill="#4b0082"/>
<text x="492" y="315.1" font-size="3" class="lg" transform="rotate(0.05 492 315.1)">MV-MA (Eu)</text>
<rect x="482.55" y="317.53" width="6.7" height="2.2" fill="#ff00ff"/>
<text x="492" y="319.58" font-size="3" class="lg" transform="rotate(0.05 492 319.58)">1/N-ML</text>
<rect x="482.55" y="322.01" width="6.7" height="2.2" fill="#9400d3"/>
<text x="492" y="324.06" font-size="3" class="lg" transform="rotate(0.05 492 324.06)">1/N-MA</text>
</g>
<g>
<rect x="540.45" y="310.2" width="144.2" height="126.65" fill="none" stroke="#000" stroke-width="0.3"/>
<rect x="546.55" y="393" width="3" height="43.85" fill="#ff0000"/>
<rect x="549.55" y="373.2" width="3" height="63.65" fill="#b22222"/>
<rect x="552.55" y="396.4" width="3" height="40.45" fill="#ff1493"/>
<rect x="555.55" y="390.2" width="3" height="46.65" fill="#ffd700"/>
<rect x="560.05" y="415" width="3" height="21.85" fill="#008000"/>
<rect x="563.05" y="410.4" width="3" height="26.45" fill="#7cfc00"/>
<rect x="566.05" y="411.6" width="3" height="25.25" fill="#0000ff"/>
<rect x="569.05" y="414.2" width="3" height="22.65" fill="#4b0082"/>
<rect x="573.94" y="431.6" width="3" height="5.25" fill="#ff00ff"/>
<rect x="578.05" y="418.2" width="3" height="18.65" fill="#9400d3"/>
<rect x="595" y="392.6" width="3" height="44.25" fill="#ff0000"/>
<rect x="598" y="370" width="3" height="66.85" fill="#b22222"/>
<rect x="601" y="393" width="3" height="43.85" fill="#ff1493"/>
<rect x="604" y="389.2" width="3" height="47.65" fill="#ffd700"/>
<rect x="608.5" y="413.6" width="3" height="23.25" fill="#008000"/>
<rect x="611.5" y="404.4" width="3" height="32.45" fill="#7cfc00"/>
<rect x="614.5" y="411" width="3" height="25.85" fill="#0000ff"/>
<rect x="617.5" y="413.8" width="3" height="23.05" fill="#4b0082"/>
<rect x="622.39" y="431.6" width="3" height="5.25" fill="#ff00ff"/>
<rect x="626.5" y="415.4" width="3" height="21.45" fill="#9400d3"/>
<rect x="643.45" y="391.2" width="3" height="45.65" fill="#ff0000"/>
<rect x="646.45" y="367" width="3" height="69.85" fill="#b22222"/>
<rect x="649.45" y="391" width="3" height="45.85" fill="#ff1493"/>
<rect x="652.45" y="388.2" width="3" height="48.65" fill="#ffd700"/>
<rect x="656.95" y="413" width="3" height="23.85" fill="#008000"/>
<rect x="659.95" y="403.8" width="3" height="33.05" fill="#7cfc00"/>
<rect x="662.95" y="410.2" width="3" height="26.65" fill="#0000ff"/>
<rect x="665.95" y="413.6" width="3" height="23.25" fill="#4b0082"/>
<rect x="670.84" y="431.6" width="3" height="5.25" fill="#ff00ff"/>
<rect x="674.95" y="412.6" width="3" height="24.25" fill="#9400d3"/>
<line x1="539.15" y1="310.2" x2="540.45" y2="310.2" stroke="#000" stroke-width="0.2"/>
<text x="539.05" y="311.7" font-size="4.8" text-anchor="end" transform="rotate(0.05 539.05 311.7)">0.150</text>
<line x1="539.15" y1="328.29" x2="540.45" y2="328.29" stroke="#000" stroke-width="0.2"/>
<text x="539.05" y="329.79" font-size="4.8" text-anchor="end" transform="rotate(0.05 539.05 329.79)">0.129</text>
<line x1="539.15" y1="346.39" x2="540.45" y2="346.39" stroke="#000" stroke-width="0.2"/>
<text x="539.05" y="347.89" font-size="4.8" text-anchor="end" transform="rotate(0.05 539.05 347.89)">0.107</text>
<line x1="539.15" y1="364.48" x2="540.45" y2="364.48" stroke="#000" stroke-width="0.2"/>
<text x="539.05" y="365.98" font-size="4.8" text-anchor="end" transform="rotate(0.05 539.05 365.98)">0.086</text>
<line x1="539.15" y1="382.57" x2="540.45" y2="382.57" stroke="#000" stroke-width="0.2"/>
<text x="539.05" y="384.07" font-size="4.8" text-anchor="end" transform="rotate(0.05 539.05 384.07)">0.064</text>
<line x1="539.15" y1="400.66" x2="540.45" y2="400.66" stroke="#000" stroke-width="0.2"/>
<text x="539.05" y="402.16" font-size="4.8" text-anchor="end" transform="rotate(0.05 539.05 402.16)">0.043</text>
<line x1="539.15" y1="418.76" x2="540.45" y2="418.76" stroke="#000" stroke-width="0.2"/>
<text x="539.05" y="420.26" font-size="4.8" text-anchor="end" transform="rotate(0.05 539.05 420.26)">0.021</text>
<line x1="539.15" y1="436.85" x2="540.45" y2="436.85" stroke="#000" stroke-width="0.2"/>
<text x="539.05" y="438.35" font-size="4.8" text-anchor="end" transform="rotate(0.05 539.05 438.35)">0.000</text>
<line x1="560.05" y1="436.85" x2="560.05" y2="438.15" stroke="#000" stroke-width="0.2"/>
<text x="560.25" y="442.55" font-size="4.9" text-anchor="middle" transform="rotate(0.05 560.25 442.55)"><tspan font-style="italic" font-size="5">v</tspan><tspan font-size="3.5" dy="-1.9" font-style="italic">f</tspan><tspan font-size="3.5" dy="3.1" dx="-1.1">M</tspan><tspan dy="-1.2"> = -0.3 W</tspan><tspan font-size="3.5" dy="1.1" letter-spacing="0.25">t − 1</tspan></text>
<line x1="608.5" y1="436.85" x2="608.5" y2="438.15" stroke="#000" stroke-width="0.2"/>
<text x="608.7" y="442.55" font-size="4.9" text-anchor="middle" transform="rotate(0.05 608.7 442.55)"><tspan font-style="italic" font-size="5">v</tspan><tspan font-size="3.5" dy="-1.9" font-style="italic">f</tspan><tspan font-size="3.5" dy="3.1" dx="-1.1">M</tspan><tspan dy="-1.2"> = -0.5 W</tspan><tspan font-size="3.5" dy="1.1" letter-spacing="0.25">t − 1</tspan></text>
<line x1="656.95" y1="436.85" x2="656.95" y2="438.15" stroke="#000" stroke-width="0.2"/>
<text x="657.15" y="442.55" font-size="4.9" text-anchor="middle" transform="rotate(0.05 657.15 442.55)"><tspan font-style="italic" font-size="5">v</tspan><tspan font-size="3.5" dy="-1.9" font-style="italic">f</tspan><tspan font-size="3.5" dy="3.1" dx="-1.1">M</tspan><tspan dy="-1.2"> = -0.7 W</tspan><tspan font-size="3.5" dy="1.1" letter-spacing="0.25">t − 1</tspan></text>
<text x="612.55" y="448.25" font-size="5.5" text-anchor="middle" transform="rotate(0.05 612.55 448.25)">Borrowing constraints</text>
<text x="526.45" y="373.92" font-size="5.5" text-anchor="middle" transform="rotate(-89.95 526.45 373.92)">ARR</text>
<text x="611.55" y="308.65" font-size="6.3" text-anchor="middle" transform="rotate(0.05 611.55 308.65)">(C-4) the forth rolling</text>
<rect x="585.35" y="310.7" width="98.7" height="20" rx="0.8" fill="#fff" fill-opacity="0.8" stroke="#d4d4d4" stroke-width="0.35"/>
<rect x="586.05" y="313.05" width="6.7" height="2.2" fill="#ff0000"/>
<text x="595.5" y="315.1" font-size="3" class="lg" transform="rotate(0.05 595.5 315.1)">MV-ML (FWA)</text>
<rect x="586.05" y="317.53" width="6.7" height="2.2" fill="#b22222"/>
<text x="595.5" y="319.58" font-size="3" class="lg" transform="rotate(0.05 595.5 319.58)">MV-ML (BH)</text>
<rect x="586.05" y="322.01" width="6.7" height="2.2" fill="#ff1493"/>
<text x="595.5" y="324.06" font-size="3" class="lg" transform="rotate(0.05 595.5 324.06)">MV-ML (BA)</text>
<rect x="586.05" y="326.49" width="6.7" height="2.2" fill="#ffd700"/>
<text x="595.5" y="328.54" font-size="3" class="lg" transform="rotate(0.05 595.5 328.54)">MV-ML (Eu)</text>
<rect x="620.8" y="313.05" width="6.7" height="2.2" fill="#008000"/>
<text x="630.25" y="315.1" font-size="3" class="lg" transform="rotate(0.05 630.25 315.1)">MV-MA (FWA)</text>
<rect x="620.8" y="317.53" width="6.7" height="2.2" fill="#7cfc00"/>
<text x="630.25" y="319.58" font-size="3" class="lg" transform="rotate(0.05 630.25 319.58)">MV-MA (BH)</text>
<rect x="620.8" y="322.01" width="6.7" height="2.2" fill="#0000ff"/>
<text x="630.25" y="324.06" font-size="3" class="lg" transform="rotate(0.05 630.25 324.06)">MV-MA (BA)</text>
<rect x="655.55" y="313.05" width="6.7" height="2.2" fill="#4b0082"/>
<text x="665" y="315.1" font-size="3" class="lg" transform="rotate(0.05 665 315.1)">MV-MA (Eu)</text>
<rect x="655.55" y="317.53" width="6.7" height="2.2" fill="#ff00ff"/>
<text x="665" y="319.58" font-size="3" class="lg" transform="rotate(0.05 665 319.58)">1/N-ML</text>
<rect x="655.55" y="322.01" width="6.7" height="2.2" fill="#9400d3"/>
<text x="665" y="324.06" font-size="3" class="lg" transform="rotate(0.05 665 324.06)">1/N-MA</text>
</g>
</svg>
</body>
</html>
